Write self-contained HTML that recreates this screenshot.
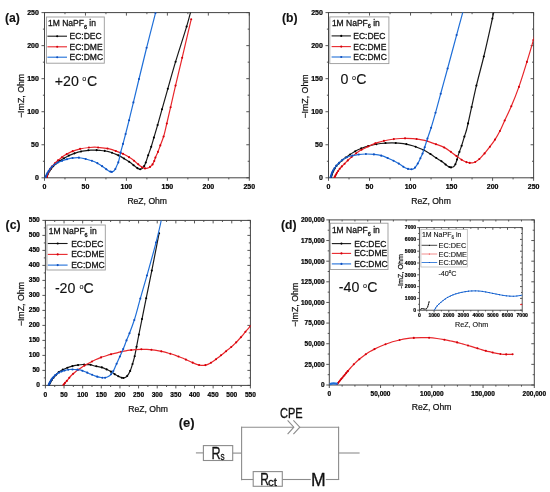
<!DOCTYPE html>
<html><head><meta charset="utf-8"><title>EIS figure</title>
<style>
html,body{margin:0;padding:0;background:#fff;}
svg{display:block;font-family:'Liberation Sans', Arial, sans-serif;}
svg text{stroke:#111;stroke-width:0.12px;stroke-linejoin:round;}
svg text.lg{stroke-width:0.3px;}
svg text.at{stroke-width:0.22px;}
</style></head>
<body>
<svg width="550" height="492" viewBox="0 0 550 492">
<rect width="550" height="492" fill="#fff"/>
<line x1="44.5" y1="177.8" x2="44.5" y2="180.8" stroke="#444" stroke-width="0.9"/>
<line x1="44.5" y1="12.6" x2="44.5" y2="15.6" stroke="#444" stroke-width="0.9"/>
<line x1="64.98" y1="177.8" x2="64.98" y2="179.4" stroke="#444" stroke-width="0.9"/>
<line x1="64.98" y1="12.6" x2="64.98" y2="14.2" stroke="#444" stroke-width="0.9"/>
<line x1="85.46" y1="177.8" x2="85.46" y2="180.8" stroke="#444" stroke-width="0.9"/>
<line x1="85.46" y1="12.6" x2="85.46" y2="15.6" stroke="#444" stroke-width="0.9"/>
<line x1="105.94" y1="177.8" x2="105.94" y2="179.4" stroke="#444" stroke-width="0.9"/>
<line x1="105.94" y1="12.6" x2="105.94" y2="14.2" stroke="#444" stroke-width="0.9"/>
<line x1="126.42" y1="177.8" x2="126.42" y2="180.8" stroke="#444" stroke-width="0.9"/>
<line x1="126.42" y1="12.6" x2="126.42" y2="15.6" stroke="#444" stroke-width="0.9"/>
<line x1="146.9" y1="177.8" x2="146.9" y2="179.4" stroke="#444" stroke-width="0.9"/>
<line x1="146.9" y1="12.6" x2="146.9" y2="14.2" stroke="#444" stroke-width="0.9"/>
<line x1="167.38" y1="177.8" x2="167.38" y2="180.8" stroke="#444" stroke-width="0.9"/>
<line x1="167.38" y1="12.6" x2="167.38" y2="15.6" stroke="#444" stroke-width="0.9"/>
<line x1="187.86" y1="177.8" x2="187.86" y2="179.4" stroke="#444" stroke-width="0.9"/>
<line x1="187.86" y1="12.6" x2="187.86" y2="14.2" stroke="#444" stroke-width="0.9"/>
<line x1="208.34" y1="177.8" x2="208.34" y2="180.8" stroke="#444" stroke-width="0.9"/>
<line x1="208.34" y1="12.6" x2="208.34" y2="15.6" stroke="#444" stroke-width="0.9"/>
<line x1="228.82" y1="177.8" x2="228.82" y2="179.4" stroke="#444" stroke-width="0.9"/>
<line x1="228.82" y1="12.6" x2="228.82" y2="14.2" stroke="#444" stroke-width="0.9"/>
<line x1="249.3" y1="177.8" x2="249.3" y2="180.8" stroke="#444" stroke-width="0.9"/>
<line x1="249.3" y1="12.6" x2="249.3" y2="15.6" stroke="#444" stroke-width="0.9"/>
<line x1="41.5" y1="177.8" x2="44.5" y2="177.8" stroke="#444" stroke-width="0.9"/>
<line x1="246.3" y1="177.8" x2="249.3" y2="177.8" stroke="#444" stroke-width="0.9"/>
<line x1="42.9" y1="161.28" x2="44.5" y2="161.28" stroke="#444" stroke-width="0.9"/>
<line x1="247.7" y1="161.28" x2="249.3" y2="161.28" stroke="#444" stroke-width="0.9"/>
<line x1="41.5" y1="144.76" x2="44.5" y2="144.76" stroke="#444" stroke-width="0.9"/>
<line x1="246.3" y1="144.76" x2="249.3" y2="144.76" stroke="#444" stroke-width="0.9"/>
<line x1="42.9" y1="128.24" x2="44.5" y2="128.24" stroke="#444" stroke-width="0.9"/>
<line x1="247.7" y1="128.24" x2="249.3" y2="128.24" stroke="#444" stroke-width="0.9"/>
<line x1="41.5" y1="111.72" x2="44.5" y2="111.72" stroke="#444" stroke-width="0.9"/>
<line x1="246.3" y1="111.72" x2="249.3" y2="111.72" stroke="#444" stroke-width="0.9"/>
<line x1="42.9" y1="95.2" x2="44.5" y2="95.2" stroke="#444" stroke-width="0.9"/>
<line x1="247.7" y1="95.2" x2="249.3" y2="95.2" stroke="#444" stroke-width="0.9"/>
<line x1="41.5" y1="78.68" x2="44.5" y2="78.68" stroke="#444" stroke-width="0.9"/>
<line x1="246.3" y1="78.68" x2="249.3" y2="78.68" stroke="#444" stroke-width="0.9"/>
<line x1="42.9" y1="62.16" x2="44.5" y2="62.16" stroke="#444" stroke-width="0.9"/>
<line x1="247.7" y1="62.16" x2="249.3" y2="62.16" stroke="#444" stroke-width="0.9"/>
<line x1="41.5" y1="45.64" x2="44.5" y2="45.64" stroke="#444" stroke-width="0.9"/>
<line x1="246.3" y1="45.64" x2="249.3" y2="45.64" stroke="#444" stroke-width="0.9"/>
<line x1="42.9" y1="29.12" x2="44.5" y2="29.12" stroke="#444" stroke-width="0.9"/>
<line x1="247.7" y1="29.12" x2="249.3" y2="29.12" stroke="#444" stroke-width="0.9"/>
<line x1="41.5" y1="12.6" x2="44.5" y2="12.6" stroke="#444" stroke-width="0.9"/>
<line x1="246.3" y1="12.6" x2="249.3" y2="12.6" stroke="#444" stroke-width="0.9"/>
<rect x="44.5" y="12.6" width="204.8" height="165.2" fill="none" stroke="#444" stroke-width="1"/>
<text x="44.5" y="189" font-size="7.0" text-anchor="middle" font-weight="bold" fill="#000" style="stroke:#000;stroke-width:0.22px">0</text>
<text x="85.46" y="189" font-size="7.0" text-anchor="middle" font-weight="bold" fill="#000" style="stroke:#000;stroke-width:0.22px">50</text>
<text x="126.42" y="189" font-size="7.0" text-anchor="middle" font-weight="bold" fill="#000" style="stroke:#000;stroke-width:0.22px">100</text>
<text x="167.38" y="189" font-size="7.0" text-anchor="middle" font-weight="bold" fill="#000" style="stroke:#000;stroke-width:0.22px">150</text>
<text x="208.34" y="189" font-size="7.0" text-anchor="middle" font-weight="bold" fill="#000" style="stroke:#000;stroke-width:0.22px">200</text>
<text x="249.3" y="189" font-size="7.0" text-anchor="middle" font-weight="bold" fill="#000" style="stroke:#000;stroke-width:0.22px">250</text>
<text x="38.9" y="180.32" font-size="7.0" text-anchor="end" font-weight="bold" fill="#000" style="stroke:#000;stroke-width:0.22px">0</text>
<text x="38.9" y="147.28" font-size="7.0" text-anchor="end" font-weight="bold" fill="#000" style="stroke:#000;stroke-width:0.22px">50</text>
<text x="38.9" y="114.24" font-size="7.0" text-anchor="end" font-weight="bold" fill="#000" style="stroke:#000;stroke-width:0.22px">100</text>
<text x="38.9" y="81.2" font-size="7.0" text-anchor="end" font-weight="bold" fill="#000" style="stroke:#000;stroke-width:0.22px">150</text>
<text x="38.9" y="48.16" font-size="7.0" text-anchor="end" font-weight="bold" fill="#000" style="stroke:#000;stroke-width:0.22px">200</text>
<text x="38.9" y="15.12" font-size="7.0" text-anchor="end" font-weight="bold" fill="#000" style="stroke:#000;stroke-width:0.22px">250</text>
<text x="4.9" y="22.4" font-size="12.2" text-anchor="start" font-weight="bold" fill="#111" >(a)</text>
<text x="147.2" y="204.3" font-size="8.6" text-anchor="middle" font-weight="normal" fill="#111" class="at">ReZ, Ohm</text>
<text class="at" x="24.1" y="95.9" font-size="8.8" text-anchor="middle" fill="#111" transform="rotate(-90 24.1 95.9)">&#8722;ImZ, Ohm</text>
<clipPath id="ca"><rect x="44.5" y="12.6" width="204.8" height="165.20000000000002"/></clipPath>
<path d="M46.4,177.6C47.03,176 47.51,174.28 48.3,172.8C49.06,171.39 49.93,170.24 51,168.9C52.26,167.32 53.78,165.5 55.5,164C57.35,162.38 59.72,160.93 61.8,159.6C63.75,158.35 65.6,157.2 67.6,156.2C69.6,155.2 71.53,154.39 73.8,153.6C76.43,152.69 79.62,151.79 82.5,151.2C85.25,150.64 88.4,150.25 90.7,150.1C92.36,149.99 93.51,150.06 95,150.1C96.6,150.15 98.12,150.21 100,150.4C102.46,150.65 105.84,150.94 108.5,151.6C110.98,152.21 113.34,153.21 115.5,154.1C117.44,154.89 119.15,155.65 120.9,156.6C122.66,157.55 124.38,158.76 126,159.8C127.5,160.76 128.92,161.6 130.3,162.6C131.68,163.6 133.03,164.82 134.3,165.8C135.42,166.67 136.44,167.6 137.5,168.2C138.4,168.71 139.34,169.31 140.2,169.3C141,169.29 141.84,168.83 142.5,168.3C143.23,167.71 143.76,166.74 144.3,165.8C144.91,164.74 145.36,163.6 145.9,162.2C146.62,160.33 147.29,157.88 148.1,155.5C149.03,152.76 150.24,149.67 151.2,146.7C152.17,143.7 152.93,140.87 153.9,137.6C155.04,133.76 156.33,129.52 157.6,125.1C159.02,120.15 160.43,114.91 162,109.3C163.79,102.91 165.71,96.11 167.8,88.8C170.2,80.39 172.71,71.3 175.6,61.7C178.89,50.74 183.91,35.67 186.6,26.6C188.29,20.9 189.8,14.96 190.5,12.6C190.74,11.8 190.83,11.53 191,11" fill="none" stroke="#1a1a1a" stroke-width="1.2" stroke-linejoin="round" clip-path="url(#ca)"/>
<g fill="#000" clip-path="url(#ca)"><circle cx="46.4" cy="177.6" r="1.05"/><circle cx="46.75" cy="176.66" r="1.05"/><circle cx="47.16" cy="175.52" r="1.05"/><circle cx="47.68" cy="174.15" r="1.05"/><circle cx="48.44" cy="172.55" r="1.05"/><circle cx="49.59" cy="170.73" r="1.05"/><circle cx="51.18" cy="168.67" r="1.05"/><circle cx="53.22" cy="166.26" r="1.05"/><circle cx="55.97" cy="163.61" r="1.05"/><circle cx="59.68" cy="160.96" r="1.05"/><circle cx="63.93" cy="158.26" r="1.05"/><circle cx="68.82" cy="155.61" r="1.05"/><circle cx="74.53" cy="153.35" r="1.05"/><circle cx="81.05" cy="151.52" r="1.05"/><circle cx="88.43" cy="150.3" r="1.05"/><circle cx="96.68" cy="150.16" r="1.05"/><circle cx="104.72" cy="150.92" r="1.05"/><circle cx="111.99" cy="152.7" r="1.05"/><circle cx="118.44" cy="155.37" r="1.05"/><circle cx="124.08" cy="158.55" r="1.05"/><circle cx="129.15" cy="161.8" r="1.05"/><circle cx="133.58" cy="165.22" r="1.05"/><circle cx="137.42" cy="168.16" r="1.05"/><circle cx="140.2" cy="169.3" r="1.05"/><circle cx="144.19" cy="166" r="1.05"/><circle cx="145.78" cy="162.5" r="1.05"/><circle cx="148.2" cy="155.2" r="1.05"/><circle cx="151.2" cy="146.7" r="1.05"/><circle cx="153.9" cy="137.6" r="1.05"/><circle cx="157.6" cy="125.1" r="1.05"/><circle cx="162" cy="109.3" r="1.05"/><circle cx="167.8" cy="88.8" r="1.05"/><circle cx="175.6" cy="61.7" r="1.05"/><circle cx="186.6" cy="26.6" r="1.05"/></g>
<path d="M46.6,177.6C47.13,175.93 47.54,174.14 48.2,172.6C48.82,171.16 49.54,169.88 50.4,168.6C51.29,167.27 52.46,165.97 53.5,164.8C54.46,163.72 55.32,162.8 56.4,161.8C57.62,160.67 59.07,159.5 60.5,158.4C61.97,157.27 63.4,156.16 65.1,155.1C67.05,153.89 69.22,152.61 71.6,151.6C74.26,150.47 77.4,149.48 80.4,148.8C83.4,148.11 86.93,147.76 89.6,147.5C91.63,147.3 93.24,147.16 95,147.2C96.7,147.24 98.08,147.48 100,147.7C102.62,148 106.34,148.22 109.3,148.9C112.13,149.55 114.85,150.66 117.4,151.6C119.73,152.46 121.89,153.26 124,154.3C126.09,155.33 128.29,156.69 130,157.8C131.35,158.67 132.31,159.39 133.5,160.3C134.81,161.3 136.23,162.56 137.5,163.6C138.65,164.55 139.8,165.55 140.8,166.3C141.59,166.89 142.26,167.45 143,167.8C143.66,168.11 144.29,168.32 145,168.4C145.78,168.48 146.69,168.43 147.5,168.2C148.36,167.95 149.23,167.44 150,166.9C150.8,166.35 151.56,165.71 152.2,164.9C152.92,163.99 153.48,162.78 154,161.6C154.55,160.35 154.83,159.04 155.4,157.6C156.09,155.86 157.1,153.87 157.9,151.9C158.74,149.82 159.44,147.74 160.3,145.4C161.31,142.67 162.59,139.78 163.6,136.5C164.8,132.61 165.7,128.08 166.8,123.5C168.03,118.38 169.27,112.98 170.6,107.2C172.11,100.64 173.64,93.74 175.4,86.2C177.45,77.4 179.78,67.83 182.2,57.6C185,45.77 188.2,32.07 191.2,19.3" fill="none" stroke="#e8262b" stroke-width="1.2" stroke-linejoin="round" clip-path="url(#ca)"/>
<g fill="#d4000a" clip-path="url(#ca)"><circle cx="46.6" cy="177.6" r="1.05"/><circle cx="46.89" cy="176.64" r="1.05"/><circle cx="47.22" cy="175.49" r="1.05"/><circle cx="47.64" cy="174.1" r="1.05"/><circle cx="48.26" cy="172.47" r="1.05"/><circle cx="49.18" cy="170.59" r="1.05"/><circle cx="50.51" cy="168.44" r="1.05"/><circle cx="52.4" cy="166.05" r="1.05"/><circle cx="54.84" cy="163.33" r="1.05"/><circle cx="58" cy="160.4" r="1.05"/><circle cx="61.92" cy="157.31" r="1.05"/><circle cx="66.72" cy="154.11" r="1.05"/><circle cx="72.71" cy="151.15" r="1.05"/><circle cx="80.09" cy="148.87" r="1.05"/><circle cx="88.94" cy="147.57" r="1.05"/><circle cx="98.13" cy="147.47" r="1.05"/><circle cx="107.52" cy="148.56" r="1.05"/><circle cx="115.82" cy="151.01" r="1.05"/><circle cx="123.01" cy="153.83" r="1.05"/><circle cx="129.02" cy="157.17" r="1.05"/><circle cx="134.02" cy="160.71" r="1.05"/><circle cx="138.22" cy="164.2" r="1.05"/><circle cx="142.03" cy="167.22" r="1.05"/><circle cx="145" cy="168.4" r="1.05"/><circle cx="150" cy="166.9" r="1.05"/><circle cx="152.56" cy="164.4" r="1.05"/><circle cx="154.25" cy="161" r="1.05"/><circle cx="155.4" cy="157.6" r="1.05"/><circle cx="157.9" cy="151.9" r="1.05"/><circle cx="160.3" cy="145.4" r="1.05"/><circle cx="163.6" cy="136.5" r="1.05"/><circle cx="166.8" cy="123.5" r="1.05"/><circle cx="170.6" cy="107.2" r="1.05"/><circle cx="175.54" cy="85.6" r="1.05"/><circle cx="182.15" cy="57.8" r="1.05"/><circle cx="191.2" cy="19.3" r="1.05"/></g>
<path d="M45.4,177.6C45.87,176.47 46.25,175.31 46.8,174.2C47.37,173.05 48.01,171.97 48.8,170.8C49.71,169.45 50.75,167.84 52,166.6C53.28,165.33 54.93,164.18 56.4,163.3C57.7,162.53 58.84,162.09 60.3,161.5C62.09,160.78 64.47,159.97 66.4,159.4C68.11,158.9 69.51,158.49 71.3,158.2C73.39,157.86 75.85,157.49 78.2,157.6C80.68,157.72 83.37,158.41 85.8,159C88.09,159.56 90.48,160.31 92.4,161C93.94,161.55 95.21,162.07 96.5,162.7C97.73,163.3 98.82,163.94 100,164.7C101.29,165.53 102.61,166.58 103.9,167.5C105.17,168.41 106.57,169.49 107.7,170.2C108.55,170.74 109.26,171.22 110,171.5C110.62,171.74 111.21,171.94 111.8,171.9C112.38,171.86 112.98,171.66 113.5,171.3C114.1,170.88 114.62,170.15 115.1,169.4C115.67,168.5 116.09,167.31 116.6,166.2C117.15,164.99 117.76,163.99 118.3,162.4C119.14,159.92 119.79,155.76 120.6,152.6C121.36,149.61 122.19,146.9 123,143.9C123.86,140.71 124.68,137.58 125.6,134C126.69,129.78 127.89,125.1 129.1,120.2C130.47,114.65 131.88,108.74 133.4,102.4C135.15,95.13 136.98,87.36 139,79C141.33,69.34 143.93,58.51 146.6,47.8C149.44,36.41 154.56,16.72 155.6,12.6C155.82,11.72 155.87,11.53 156,11" fill="none" stroke="#1f6fd8" stroke-width="1.2" stroke-linejoin="round" clip-path="url(#ca)"/>
<g fill="#1050c0" clip-path="url(#ca)"><circle cx="45.4" cy="177.6" r="1.05"/><circle cx="45.77" cy="176.67" r="1.05"/><circle cx="46.2" cy="175.56" r="1.05"/><circle cx="46.77" cy="174.26" r="1.05"/><circle cx="47.56" cy="172.78" r="1.05"/><circle cx="48.62" cy="171.07" r="1.05"/><circle cx="49.96" cy="169.1" r="1.05"/><circle cx="51.72" cy="166.88" r="1.05"/><circle cx="54.29" cy="164.69" r="1.05"/><circle cx="57.71" cy="162.6" r="1.05"/><circle cx="62.03" cy="160.84" r="1.05"/><circle cx="66.95" cy="159.24" r="1.05"/><circle cx="72.56" cy="158" r="1.05"/><circle cx="78.91" cy="157.65" r="1.05"/><circle cx="85.72" cy="158.98" r="1.05"/><circle cx="91.9" cy="160.82" r="1.05"/><circle cx="97.41" cy="163.16" r="1.05"/><circle cx="102.08" cy="166.16" r="1.05"/><circle cx="106.25" cy="169.21" r="1.05"/><circle cx="110.26" cy="171.6" r="1.05"/><circle cx="111.8" cy="171.9" r="1.05"/><circle cx="115.34" cy="169" r="1.05"/><circle cx="118.3" cy="162.4" r="1.05"/><circle cx="120.6" cy="152.6" r="1.05"/><circle cx="123" cy="143.9" r="1.05"/><circle cx="125.6" cy="134" r="1.05"/><circle cx="129.1" cy="120.2" r="1.05"/><circle cx="133.4" cy="102.4" r="1.05"/><circle cx="139" cy="79" r="1.05"/><circle cx="146.6" cy="47.8" r="1.05"/><circle cx="155.5" cy="13" r="1.05"/></g>
<rect x="46.4" y="17" width="57.9" height="46.2" fill="#fff" stroke="#9a9a9a" stroke-width="0.9"/>
<text class="lg" x="48" y="26.2" font-size="8.5" fill="#1a1a1a">1M NaPF<tspan font-size="5.5" dy="2.55">6</tspan><tspan dy="-2.55"> in</tspan></text>
<line x1="47.4" y1="36.2" x2="67" y2="36.2" stroke="#1a1a1a" stroke-width="1.1"/>
<circle cx="57.2" cy="36.2" r="1.05" fill="#000"/>
<text x="69.5" y="39.26" font-size="8.5" text-anchor="start" font-weight="normal" fill="#1a1a1a" class="lg">EC:DEC</text>
<line x1="47.4" y1="46.8" x2="67" y2="46.8" stroke="#e8262b" stroke-width="1.1"/>
<circle cx="57.2" cy="46.8" r="1.05" fill="#d4000a"/>
<text x="69.5" y="49.86" font-size="8.5" text-anchor="start" font-weight="normal" fill="#1a1a1a" class="lg">EC:DME</text>
<line x1="47.4" y1="57.2" x2="67" y2="57.2" stroke="#1f6fd8" stroke-width="1.1"/>
<circle cx="57.2" cy="57.2" r="1.05" fill="#1050c0"/>
<text x="69.5" y="60.26" font-size="8.5" text-anchor="start" font-weight="normal" fill="#1a1a1a" class="lg">EC:DMC</text>
<text y="85.7" font-size="14.2" fill="#111"><tspan x="54.8">+20</tspan><tspan x="82.2" y="81.1" font-size="7.2">o</tspan><tspan x="87" y="85.7">C</tspan></text>
<line x1="328.5" y1="177.8" x2="328.5" y2="180.8" stroke="#444" stroke-width="0.9"/>
<line x1="328.5" y1="12.6" x2="328.5" y2="15.6" stroke="#444" stroke-width="0.9"/>
<line x1="349.01" y1="177.8" x2="349.01" y2="179.4" stroke="#444" stroke-width="0.9"/>
<line x1="349.01" y1="12.6" x2="349.01" y2="14.2" stroke="#444" stroke-width="0.9"/>
<line x1="369.52" y1="177.8" x2="369.52" y2="180.8" stroke="#444" stroke-width="0.9"/>
<line x1="369.52" y1="12.6" x2="369.52" y2="15.6" stroke="#444" stroke-width="0.9"/>
<line x1="390.03" y1="177.8" x2="390.03" y2="179.4" stroke="#444" stroke-width="0.9"/>
<line x1="390.03" y1="12.6" x2="390.03" y2="14.2" stroke="#444" stroke-width="0.9"/>
<line x1="410.54" y1="177.8" x2="410.54" y2="180.8" stroke="#444" stroke-width="0.9"/>
<line x1="410.54" y1="12.6" x2="410.54" y2="15.6" stroke="#444" stroke-width="0.9"/>
<line x1="431.05" y1="177.8" x2="431.05" y2="179.4" stroke="#444" stroke-width="0.9"/>
<line x1="431.05" y1="12.6" x2="431.05" y2="14.2" stroke="#444" stroke-width="0.9"/>
<line x1="451.56" y1="177.8" x2="451.56" y2="180.8" stroke="#444" stroke-width="0.9"/>
<line x1="451.56" y1="12.6" x2="451.56" y2="15.6" stroke="#444" stroke-width="0.9"/>
<line x1="472.07" y1="177.8" x2="472.07" y2="179.4" stroke="#444" stroke-width="0.9"/>
<line x1="472.07" y1="12.6" x2="472.07" y2="14.2" stroke="#444" stroke-width="0.9"/>
<line x1="492.58" y1="177.8" x2="492.58" y2="180.8" stroke="#444" stroke-width="0.9"/>
<line x1="492.58" y1="12.6" x2="492.58" y2="15.6" stroke="#444" stroke-width="0.9"/>
<line x1="513.09" y1="177.8" x2="513.09" y2="179.4" stroke="#444" stroke-width="0.9"/>
<line x1="513.09" y1="12.6" x2="513.09" y2="14.2" stroke="#444" stroke-width="0.9"/>
<line x1="533.6" y1="177.8" x2="533.6" y2="180.8" stroke="#444" stroke-width="0.9"/>
<line x1="533.6" y1="12.6" x2="533.6" y2="15.6" stroke="#444" stroke-width="0.9"/>
<line x1="325.5" y1="177.8" x2="328.5" y2="177.8" stroke="#444" stroke-width="0.9"/>
<line x1="530.6" y1="177.8" x2="533.6" y2="177.8" stroke="#444" stroke-width="0.9"/>
<line x1="326.9" y1="161.28" x2="328.5" y2="161.28" stroke="#444" stroke-width="0.9"/>
<line x1="532" y1="161.28" x2="533.6" y2="161.28" stroke="#444" stroke-width="0.9"/>
<line x1="325.5" y1="144.76" x2="328.5" y2="144.76" stroke="#444" stroke-width="0.9"/>
<line x1="530.6" y1="144.76" x2="533.6" y2="144.76" stroke="#444" stroke-width="0.9"/>
<line x1="326.9" y1="128.24" x2="328.5" y2="128.24" stroke="#444" stroke-width="0.9"/>
<line x1="532" y1="128.24" x2="533.6" y2="128.24" stroke="#444" stroke-width="0.9"/>
<line x1="325.5" y1="111.72" x2="328.5" y2="111.72" stroke="#444" stroke-width="0.9"/>
<line x1="530.6" y1="111.72" x2="533.6" y2="111.72" stroke="#444" stroke-width="0.9"/>
<line x1="326.9" y1="95.2" x2="328.5" y2="95.2" stroke="#444" stroke-width="0.9"/>
<line x1="532" y1="95.2" x2="533.6" y2="95.2" stroke="#444" stroke-width="0.9"/>
<line x1="325.5" y1="78.68" x2="328.5" y2="78.68" stroke="#444" stroke-width="0.9"/>
<line x1="530.6" y1="78.68" x2="533.6" y2="78.68" stroke="#444" stroke-width="0.9"/>
<line x1="326.9" y1="62.16" x2="328.5" y2="62.16" stroke="#444" stroke-width="0.9"/>
<line x1="532" y1="62.16" x2="533.6" y2="62.16" stroke="#444" stroke-width="0.9"/>
<line x1="325.5" y1="45.64" x2="328.5" y2="45.64" stroke="#444" stroke-width="0.9"/>
<line x1="530.6" y1="45.64" x2="533.6" y2="45.64" stroke="#444" stroke-width="0.9"/>
<line x1="326.9" y1="29.12" x2="328.5" y2="29.12" stroke="#444" stroke-width="0.9"/>
<line x1="532" y1="29.12" x2="533.6" y2="29.12" stroke="#444" stroke-width="0.9"/>
<line x1="325.5" y1="12.6" x2="328.5" y2="12.6" stroke="#444" stroke-width="0.9"/>
<line x1="530.6" y1="12.6" x2="533.6" y2="12.6" stroke="#444" stroke-width="0.9"/>
<rect x="328.5" y="12.6" width="205.1" height="165.2" fill="none" stroke="#444" stroke-width="1"/>
<text x="328.5" y="189" font-size="7.0" text-anchor="middle" font-weight="bold" fill="#000" style="stroke:#000;stroke-width:0.22px">0</text>
<text x="369.52" y="189" font-size="7.0" text-anchor="middle" font-weight="bold" fill="#000" style="stroke:#000;stroke-width:0.22px">50</text>
<text x="410.54" y="189" font-size="7.0" text-anchor="middle" font-weight="bold" fill="#000" style="stroke:#000;stroke-width:0.22px">100</text>
<text x="451.56" y="189" font-size="7.0" text-anchor="middle" font-weight="bold" fill="#000" style="stroke:#000;stroke-width:0.22px">150</text>
<text x="492.58" y="189" font-size="7.0" text-anchor="middle" font-weight="bold" fill="#000" style="stroke:#000;stroke-width:0.22px">200</text>
<text x="533.6" y="189" font-size="7.0" text-anchor="middle" font-weight="bold" fill="#000" style="stroke:#000;stroke-width:0.22px">250</text>
<text x="322.9" y="180.32" font-size="7.0" text-anchor="end" font-weight="bold" fill="#000" style="stroke:#000;stroke-width:0.22px">0</text>
<text x="322.9" y="147.28" font-size="7.0" text-anchor="end" font-weight="bold" fill="#000" style="stroke:#000;stroke-width:0.22px">50</text>
<text x="322.9" y="114.24" font-size="7.0" text-anchor="end" font-weight="bold" fill="#000" style="stroke:#000;stroke-width:0.22px">100</text>
<text x="322.9" y="81.2" font-size="7.0" text-anchor="end" font-weight="bold" fill="#000" style="stroke:#000;stroke-width:0.22px">150</text>
<text x="322.9" y="48.16" font-size="7.0" text-anchor="end" font-weight="bold" fill="#000" style="stroke:#000;stroke-width:0.22px">200</text>
<text x="322.9" y="15.12" font-size="7.0" text-anchor="end" font-weight="bold" fill="#000" style="stroke:#000;stroke-width:0.22px">250</text>
<text x="281.9" y="22.4" font-size="12.2" text-anchor="start" font-weight="bold" fill="#111" >(b)</text>
<text x="431" y="204.3" font-size="8.6" text-anchor="middle" font-weight="normal" fill="#111" class="at">ReZ, Ohm</text>
<text class="at" x="307.7" y="96.5" font-size="8.8" text-anchor="middle" fill="#111" transform="rotate(-90 307.7 96.5)">&#8722;ImZ, Ohm</text>
<clipPath id="cb"><rect x="328.5" y="12.6" width="205.10000000000002" height="165.20000000000002"/></clipPath>
<path d="M330.9,177.6C331.27,176.4 331.58,175.16 332,174C332.41,172.86 332.87,171.75 333.4,170.7C333.91,169.68 334.48,168.72 335.1,167.8C335.71,166.89 336.37,166.05 337.1,165.2C337.86,164.31 338.68,163.49 339.6,162.6C340.65,161.59 341.81,160.54 343.1,159.5C344.57,158.31 346.3,157.09 348,155.9C349.79,154.65 351.57,153.38 353.6,152.2C355.86,150.9 358.31,149.59 361,148.5C363.99,147.29 367.51,146.24 370.8,145.4C374.04,144.58 377.19,143.92 380.6,143.5C384.27,143.05 388.28,142.88 392.1,142.9C395.88,142.92 399.76,143.06 403.4,143.6C406.88,144.12 410.32,145 413.5,146C416.46,146.93 419.27,148.1 421.9,149.3C424.34,150.41 426.67,151.61 428.8,152.9C430.78,154.09 432.4,155.45 434.3,156.7C436.29,158.01 438.8,159.46 440.5,160.6C441.72,161.42 442.6,162.03 443.6,162.8C444.6,163.56 445.55,164.51 446.5,165.2C447.35,165.82 448.19,166.43 449,166.8C449.68,167.11 450.33,167.37 451,167.4C451.66,167.43 452.4,167.29 453,167C453.61,166.7 454.15,166.18 454.6,165.6C455.11,164.95 455.43,164.07 455.8,163.2C456.21,162.22 456.55,161.14 456.9,160C457.29,158.72 457.56,157.32 458,155.9C458.48,154.33 459.1,152.68 459.7,151C460.33,149.22 461.02,147.55 461.7,145.5C462.54,142.96 463.46,139.61 464.3,136.9C465.05,134.47 465.69,132.99 466.5,130C467.96,124.61 469.92,114.61 471.6,107.1C473.22,99.82 474.56,93.29 476.4,85.6C478.54,76.62 481.31,66.86 483.8,56.5C486.64,44.69 490.8,25.66 492.4,18.5C493.03,15.68 493.38,13.95 493.7,12.6C493.87,11.9 493.97,11.53 494.1,11" fill="none" stroke="#1a1a1a" stroke-width="1.2" stroke-linejoin="round" clip-path="url(#cb)"/>
<g fill="#000" clip-path="url(#cb)"><circle cx="330.9" cy="177.6" r="1.05"/><circle cx="331.18" cy="176.64" r="1.05"/><circle cx="331.52" cy="175.49" r="1.05"/><circle cx="331.96" cy="174.12" r="1.05"/><circle cx="332.58" cy="172.51" r="1.05"/><circle cx="333.43" cy="170.64" r="1.05"/><circle cx="334.65" cy="168.48" r="1.05"/><circle cx="336.38" cy="166.07" r="1.05"/><circle cx="338.76" cy="163.43" r="1.05"/><circle cx="341.88" cy="160.52" r="1.05"/><circle cx="345.69" cy="157.53" r="1.05"/><circle cx="350.11" cy="154.43" r="1.05"/><circle cx="355.22" cy="151.28" r="1.05"/><circle cx="361.25" cy="148.4" r="1.05"/><circle cx="368.31" cy="146.07" r="1.05"/><circle cx="376.36" cy="144.16" r="1.05"/><circle cx="385.5" cy="143.07" r="1.05"/><circle cx="395.75" cy="142.96" r="1.05"/><circle cx="406.34" cy="144.12" r="1.05"/><circle cx="415.66" cy="146.73" r="1.05"/><circle cx="423.71" cy="150.15" r="1.05"/><circle cx="430.51" cy="154.02" r="1.05"/><circle cx="436.28" cy="157.96" r="1.05"/><circle cx="441.48" cy="161.26" r="1.05"/><circle cx="445.62" cy="164.5" r="1.05"/><circle cx="449.37" cy="166.97" r="1.05"/><circle cx="451" cy="167.4" r="1.05"/><circle cx="455.38" cy="164.2" r="1.05"/><circle cx="457.05" cy="159.5" r="1.05"/><circle cx="459.38" cy="151.9" r="1.05"/><circle cx="461.63" cy="145.7" r="1.05"/><circle cx="464.39" cy="136.6" r="1.05"/><circle cx="468.08" cy="123.4" r="1.05"/><circle cx="471.6" cy="107.1" r="1.05"/><circle cx="476.4" cy="85.6" r="1.05"/><circle cx="483.8" cy="56.5" r="1.05"/><circle cx="492.4" cy="18.5" r="1.05"/></g>
<path d="M334.4,177.6C334.97,176.5 335.48,175.4 336.1,174.3C336.74,173.16 337.43,172.01 338.2,170.9C338.99,169.75 339.86,168.58 340.8,167.5C341.75,166.41 342.71,165.59 343.9,164.4C345.51,162.79 347.73,160.41 349.6,158.7C351.26,157.18 352.79,155.93 354.5,154.6C356.28,153.22 358.18,151.78 360.1,150.6C361.95,149.46 363.93,148.52 365.8,147.6C367.56,146.73 369.17,145.99 371,145.2C373.01,144.33 374.97,143.39 377.4,142.6C380.46,141.61 384.31,140.67 388,140C391.93,139.28 396.14,138.74 400.3,138.5C404.54,138.26 409.05,138.26 413.2,138.6C417.13,138.92 420.92,139.5 424.6,140.4C428.18,141.28 431.66,142.7 435,143.9C438.15,145.03 441.34,145.99 444.1,147.4C446.63,148.7 448.86,150.39 451,151.9C452.96,153.29 454.62,154.73 456.5,156.1C458.42,157.5 460.64,159.16 462.4,160.2C463.72,160.98 464.77,161.55 466,162C467.2,162.44 468.54,162.78 469.7,162.9C470.69,163 471.58,162.95 472.5,162.8C473.42,162.65 474.23,162.48 475.2,162C476.59,161.31 478.31,159.93 479.8,158.6C481.46,157.12 483,155.28 484.6,153.4C486.36,151.34 488.18,148.99 489.9,146.7C491.64,144.39 493.38,142.13 495,139.6C496.72,136.91 498.34,134.05 499.9,131C501.59,127.71 502.97,124.26 504.7,120.5C506.72,116.12 509.1,111.44 511.3,106.3C513.84,100.37 516.44,93.82 518.9,86.9C521.66,79.14 524.49,69.68 526.9,61.9C529,55.12 531.22,47.56 532.6,42.8C533.42,39.97 533.87,38.27 534.5,36" fill="none" stroke="#e8262b" stroke-width="1.2" stroke-linejoin="round" clip-path="url(#cb)"/>
<g fill="#d4000a" clip-path="url(#cb)"><circle cx="334.4" cy="177.6" r="1.05"/><circle cx="334.85" cy="176.71" r="1.05"/><circle cx="335.39" cy="175.62" r="1.05"/><circle cx="336.09" cy="174.32" r="1.05"/><circle cx="336.99" cy="172.78" r="1.05"/><circle cx="338.16" cy="170.95" r="1.05"/><circle cx="339.71" cy="168.82" r="1.05"/><circle cx="341.82" cy="166.42" r="1.05"/><circle cx="344.59" cy="163.71" r="1.05"/><circle cx="347.82" cy="160.41" r="1.05"/><circle cx="351.62" cy="156.92" r="1.05"/><circle cx="356.14" cy="153.35" r="1.05"/><circle cx="361.5" cy="149.79" r="1.05"/><circle cx="367.94" cy="146.57" r="1.05"/><circle cx="375.32" cy="143.35" r="1.05"/><circle cx="383.94" cy="140.83" r="1.05"/><circle cx="393.84" cy="139.1" r="1.05"/><circle cx="405.05" cy="138.34" r="1.05"/><circle cx="416.6" cy="138.95" r="1.05"/><circle cx="426.93" cy="141.05" r="1.05"/><circle cx="436" cy="144.26" r="1.05"/><circle cx="444.17" cy="147.43" r="1.05"/><circle cx="450.85" cy="151.8" r="1.05"/><circle cx="456.47" cy="156.08" r="1.05"/><circle cx="461.57" cy="159.69" r="1.05"/><circle cx="466.49" cy="162.17" r="1.05"/><circle cx="469.7" cy="162.9" r="1.05"/><circle cx="475.2" cy="162" r="1.05"/><circle cx="479.35" cy="159" r="1.05"/><circle cx="484.6" cy="153.4" r="1.05"/><circle cx="489.9" cy="146.7" r="1.05"/><circle cx="495" cy="139.6" r="1.05"/><circle cx="499.9" cy="131" r="1.05"/><circle cx="504.7" cy="120.5" r="1.05"/><circle cx="511.3" cy="106.3" r="1.05"/><circle cx="518.9" cy="86.9" r="1.05"/><circle cx="526.9" cy="61.9" r="1.05"/><circle cx="533.39" cy="40" r="1.05"/></g>
<path d="M330.5,177.6C330.87,176.4 331.18,175.17 331.6,174C332.01,172.84 332.47,171.64 333,170.6C333.48,169.65 334.03,168.84 334.6,168C335.16,167.17 335.76,166.36 336.4,165.6C337.03,164.86 337.61,164.28 338.4,163.5C339.47,162.45 340.71,161 342.3,159.9C344.26,158.55 346.96,157.16 349.5,156.3C352.09,155.42 354.96,155.08 357.7,154.7C360.42,154.32 363.16,154.05 365.9,154C368.63,153.95 371.45,154.1 374.1,154.4C376.64,154.68 379.14,155.05 381.5,155.7C383.77,156.33 385.81,157.26 388,158.2C390.31,159.19 392.95,160.44 395,161.5C396.65,162.36 397.96,163.11 399.4,164C400.86,164.9 402.22,166.07 403.7,166.9C405.13,167.7 406.71,168.51 408.1,168.9C409.25,169.22 410.37,169.4 411.4,169.3C412.36,169.2 413.32,168.91 414.1,168.4C414.89,167.88 415.48,167.01 416.1,166.2C416.76,165.33 417.34,164.28 417.9,163.3C418.44,162.34 418.92,161.39 419.4,160.4C419.89,159.39 420.29,158.4 420.8,157.3C421.38,156.03 422.13,154.63 422.7,153.2C423.3,151.7 423.78,150.08 424.3,148.5C424.82,146.91 425.29,145.32 425.8,143.7C426.32,142.05 426.75,140.69 427.4,138.7C428.37,135.74 429.85,131.66 431.1,127.7C432.55,123.12 433.94,118.3 435.5,112.8C437.42,106.01 439.65,97.49 441.7,90C443.69,82.73 445.44,76.46 447.6,68.5C450.29,58.59 453.89,45.14 456.6,35.1C458.83,26.86 461.78,15.75 462.7,12.6C462.95,11.75 463.03,11.53 463.2,11" fill="none" stroke="#1f6fd8" stroke-width="1.2" stroke-linejoin="round" clip-path="url(#cb)"/>
<g fill="#1050c0" clip-path="url(#cb)"><circle cx="330.5" cy="177.6" r="1.05"/><circle cx="330.78" cy="176.64" r="1.05"/><circle cx="331.12" cy="175.48" r="1.05"/><circle cx="331.57" cy="174.07" r="1.05"/><circle cx="332.2" cy="172.4" r="1.05"/><circle cx="333.09" cy="170.43" r="1.05"/><circle cx="334.47" cy="168.19" r="1.05"/><circle cx="336.37" cy="165.63" r="1.05"/><circle cx="339.05" cy="162.84" r="1.05"/><circle cx="342.49" cy="159.77" r="1.05"/><circle cx="346.99" cy="157.29" r="1.05"/><circle cx="352.44" cy="155.52" r="1.05"/><circle cx="358.79" cy="154.55" r="1.05"/><circle cx="365.93" cy="154" r="1.05"/><circle cx="373.91" cy="154.38" r="1.05"/><circle cx="381.23" cy="155.63" r="1.05"/><circle cx="387.69" cy="158.07" r="1.05"/><circle cx="393.53" cy="160.75" r="1.05"/><circle cx="398.77" cy="163.61" r="1.05"/><circle cx="403.37" cy="166.71" r="1.05"/><circle cx="408.02" cy="168.88" r="1.05"/><circle cx="411.4" cy="169.3" r="1.05"/><circle cx="415" cy="167.6" r="1.05"/><circle cx="417.79" cy="163.5" r="1.05"/><circle cx="420.4" cy="158.2" r="1.05"/><circle cx="422.54" cy="153.6" r="1.05"/><circle cx="424.71" cy="147.2" r="1.05"/><circle cx="427.47" cy="138.5" r="1.05"/><circle cx="431.1" cy="127.7" r="1.05"/><circle cx="435.5" cy="112.8" r="1.05"/><circle cx="440.7" cy="93.7" r="1.05"/><circle cx="447.6" cy="68.5" r="1.05"/><circle cx="456.6" cy="35.1" r="1.05"/></g>
<rect x="329.8" y="16.9" width="59.1" height="46.7" fill="#fff" stroke="#9a9a9a" stroke-width="0.9"/>
<text class="lg" x="331.9" y="25.8" font-size="8.5" fill="#1a1a1a">1M NaPF<tspan font-size="5.5" dy="2.55">6</tspan><tspan dy="-2.55"> in</tspan></text>
<line x1="331.6" y1="35.9" x2="350.9" y2="35.9" stroke="#1a1a1a" stroke-width="1.1"/>
<circle cx="341.25" cy="35.9" r="1.05" fill="#000"/>
<text x="353.3" y="38.96" font-size="8.5" text-anchor="start" font-weight="normal" fill="#1a1a1a" class="lg">EC:DEC</text>
<line x1="331.6" y1="46.6" x2="350.9" y2="46.6" stroke="#e8262b" stroke-width="1.1"/>
<circle cx="341.25" cy="46.6" r="1.05" fill="#d4000a"/>
<text x="353.3" y="49.66" font-size="8.5" text-anchor="start" font-weight="normal" fill="#1a1a1a" class="lg">EC:DME</text>
<line x1="331.6" y1="57" x2="350.9" y2="57" stroke="#1f6fd8" stroke-width="1.1"/>
<circle cx="341.25" cy="57" r="1.05" fill="#1050c0"/>
<text x="353.3" y="60.06" font-size="8.5" text-anchor="start" font-weight="normal" fill="#1a1a1a" class="lg">EC:DMC</text>
<text y="84.4" font-size="14.2" fill="#111"><tspan x="340.4">0</tspan><tspan x="352" y="79.9" font-size="7.2">o</tspan><tspan x="356.3" y="84.4">C</tspan></text>
<line x1="45.4" y1="385.4" x2="45.4" y2="388.4" stroke="#444" stroke-width="0.9"/>
<line x1="45.4" y1="220.4" x2="45.4" y2="223.4" stroke="#444" stroke-width="0.9"/>
<line x1="54.72" y1="385.4" x2="54.72" y2="387" stroke="#444" stroke-width="0.9"/>
<line x1="54.72" y1="220.4" x2="54.72" y2="222" stroke="#444" stroke-width="0.9"/>
<line x1="64.04" y1="385.4" x2="64.04" y2="388.4" stroke="#444" stroke-width="0.9"/>
<line x1="64.04" y1="220.4" x2="64.04" y2="223.4" stroke="#444" stroke-width="0.9"/>
<line x1="73.35" y1="385.4" x2="73.35" y2="387" stroke="#444" stroke-width="0.9"/>
<line x1="73.35" y1="220.4" x2="73.35" y2="222" stroke="#444" stroke-width="0.9"/>
<line x1="82.67" y1="385.4" x2="82.67" y2="388.4" stroke="#444" stroke-width="0.9"/>
<line x1="82.67" y1="220.4" x2="82.67" y2="223.4" stroke="#444" stroke-width="0.9"/>
<line x1="91.99" y1="385.4" x2="91.99" y2="387" stroke="#444" stroke-width="0.9"/>
<line x1="91.99" y1="220.4" x2="91.99" y2="222" stroke="#444" stroke-width="0.9"/>
<line x1="101.31" y1="385.4" x2="101.31" y2="388.4" stroke="#444" stroke-width="0.9"/>
<line x1="101.31" y1="220.4" x2="101.31" y2="223.4" stroke="#444" stroke-width="0.9"/>
<line x1="110.63" y1="385.4" x2="110.63" y2="387" stroke="#444" stroke-width="0.9"/>
<line x1="110.63" y1="220.4" x2="110.63" y2="222" stroke="#444" stroke-width="0.9"/>
<line x1="119.95" y1="385.4" x2="119.95" y2="388.4" stroke="#444" stroke-width="0.9"/>
<line x1="119.95" y1="220.4" x2="119.95" y2="223.4" stroke="#444" stroke-width="0.9"/>
<line x1="129.26" y1="385.4" x2="129.26" y2="387" stroke="#444" stroke-width="0.9"/>
<line x1="129.26" y1="220.4" x2="129.26" y2="222" stroke="#444" stroke-width="0.9"/>
<line x1="138.58" y1="385.4" x2="138.58" y2="388.4" stroke="#444" stroke-width="0.9"/>
<line x1="138.58" y1="220.4" x2="138.58" y2="223.4" stroke="#444" stroke-width="0.9"/>
<line x1="147.9" y1="385.4" x2="147.9" y2="387" stroke="#444" stroke-width="0.9"/>
<line x1="147.9" y1="220.4" x2="147.9" y2="222" stroke="#444" stroke-width="0.9"/>
<line x1="157.22" y1="385.4" x2="157.22" y2="388.4" stroke="#444" stroke-width="0.9"/>
<line x1="157.22" y1="220.4" x2="157.22" y2="223.4" stroke="#444" stroke-width="0.9"/>
<line x1="166.54" y1="385.4" x2="166.54" y2="387" stroke="#444" stroke-width="0.9"/>
<line x1="166.54" y1="220.4" x2="166.54" y2="222" stroke="#444" stroke-width="0.9"/>
<line x1="175.85" y1="385.4" x2="175.85" y2="388.4" stroke="#444" stroke-width="0.9"/>
<line x1="175.85" y1="220.4" x2="175.85" y2="223.4" stroke="#444" stroke-width="0.9"/>
<line x1="185.17" y1="385.4" x2="185.17" y2="387" stroke="#444" stroke-width="0.9"/>
<line x1="185.17" y1="220.4" x2="185.17" y2="222" stroke="#444" stroke-width="0.9"/>
<line x1="194.49" y1="385.4" x2="194.49" y2="388.4" stroke="#444" stroke-width="0.9"/>
<line x1="194.49" y1="220.4" x2="194.49" y2="223.4" stroke="#444" stroke-width="0.9"/>
<line x1="203.81" y1="385.4" x2="203.81" y2="387" stroke="#444" stroke-width="0.9"/>
<line x1="203.81" y1="220.4" x2="203.81" y2="222" stroke="#444" stroke-width="0.9"/>
<line x1="213.13" y1="385.4" x2="213.13" y2="388.4" stroke="#444" stroke-width="0.9"/>
<line x1="213.13" y1="220.4" x2="213.13" y2="223.4" stroke="#444" stroke-width="0.9"/>
<line x1="222.45" y1="385.4" x2="222.45" y2="387" stroke="#444" stroke-width="0.9"/>
<line x1="222.45" y1="220.4" x2="222.45" y2="222" stroke="#444" stroke-width="0.9"/>
<line x1="231.76" y1="385.4" x2="231.76" y2="388.4" stroke="#444" stroke-width="0.9"/>
<line x1="231.76" y1="220.4" x2="231.76" y2="223.4" stroke="#444" stroke-width="0.9"/>
<line x1="241.08" y1="385.4" x2="241.08" y2="387" stroke="#444" stroke-width="0.9"/>
<line x1="241.08" y1="220.4" x2="241.08" y2="222" stroke="#444" stroke-width="0.9"/>
<line x1="250.4" y1="385.4" x2="250.4" y2="388.4" stroke="#444" stroke-width="0.9"/>
<line x1="250.4" y1="220.4" x2="250.4" y2="223.4" stroke="#444" stroke-width="0.9"/>
<line x1="42.4" y1="385.4" x2="45.4" y2="385.4" stroke="#444" stroke-width="0.9"/>
<line x1="247.4" y1="385.4" x2="250.4" y2="385.4" stroke="#444" stroke-width="0.9"/>
<line x1="43.8" y1="377.9" x2="45.4" y2="377.9" stroke="#444" stroke-width="0.9"/>
<line x1="248.8" y1="377.9" x2="250.4" y2="377.9" stroke="#444" stroke-width="0.9"/>
<line x1="42.4" y1="370.4" x2="45.4" y2="370.4" stroke="#444" stroke-width="0.9"/>
<line x1="247.4" y1="370.4" x2="250.4" y2="370.4" stroke="#444" stroke-width="0.9"/>
<line x1="43.8" y1="362.9" x2="45.4" y2="362.9" stroke="#444" stroke-width="0.9"/>
<line x1="248.8" y1="362.9" x2="250.4" y2="362.9" stroke="#444" stroke-width="0.9"/>
<line x1="42.4" y1="355.4" x2="45.4" y2="355.4" stroke="#444" stroke-width="0.9"/>
<line x1="247.4" y1="355.4" x2="250.4" y2="355.4" stroke="#444" stroke-width="0.9"/>
<line x1="43.8" y1="347.9" x2="45.4" y2="347.9" stroke="#444" stroke-width="0.9"/>
<line x1="248.8" y1="347.9" x2="250.4" y2="347.9" stroke="#444" stroke-width="0.9"/>
<line x1="42.4" y1="340.4" x2="45.4" y2="340.4" stroke="#444" stroke-width="0.9"/>
<line x1="247.4" y1="340.4" x2="250.4" y2="340.4" stroke="#444" stroke-width="0.9"/>
<line x1="43.8" y1="332.9" x2="45.4" y2="332.9" stroke="#444" stroke-width="0.9"/>
<line x1="248.8" y1="332.9" x2="250.4" y2="332.9" stroke="#444" stroke-width="0.9"/>
<line x1="42.4" y1="325.4" x2="45.4" y2="325.4" stroke="#444" stroke-width="0.9"/>
<line x1="247.4" y1="325.4" x2="250.4" y2="325.4" stroke="#444" stroke-width="0.9"/>
<line x1="43.8" y1="317.9" x2="45.4" y2="317.9" stroke="#444" stroke-width="0.9"/>
<line x1="248.8" y1="317.9" x2="250.4" y2="317.9" stroke="#444" stroke-width="0.9"/>
<line x1="42.4" y1="310.4" x2="45.4" y2="310.4" stroke="#444" stroke-width="0.9"/>
<line x1="247.4" y1="310.4" x2="250.4" y2="310.4" stroke="#444" stroke-width="0.9"/>
<line x1="43.8" y1="302.9" x2="45.4" y2="302.9" stroke="#444" stroke-width="0.9"/>
<line x1="248.8" y1="302.9" x2="250.4" y2="302.9" stroke="#444" stroke-width="0.9"/>
<line x1="42.4" y1="295.4" x2="45.4" y2="295.4" stroke="#444" stroke-width="0.9"/>
<line x1="247.4" y1="295.4" x2="250.4" y2="295.4" stroke="#444" stroke-width="0.9"/>
<line x1="43.8" y1="287.9" x2="45.4" y2="287.9" stroke="#444" stroke-width="0.9"/>
<line x1="248.8" y1="287.9" x2="250.4" y2="287.9" stroke="#444" stroke-width="0.9"/>
<line x1="42.4" y1="280.4" x2="45.4" y2="280.4" stroke="#444" stroke-width="0.9"/>
<line x1="247.4" y1="280.4" x2="250.4" y2="280.4" stroke="#444" stroke-width="0.9"/>
<line x1="43.8" y1="272.9" x2="45.4" y2="272.9" stroke="#444" stroke-width="0.9"/>
<line x1="248.8" y1="272.9" x2="250.4" y2="272.9" stroke="#444" stroke-width="0.9"/>
<line x1="42.4" y1="265.4" x2="45.4" y2="265.4" stroke="#444" stroke-width="0.9"/>
<line x1="247.4" y1="265.4" x2="250.4" y2="265.4" stroke="#444" stroke-width="0.9"/>
<line x1="43.8" y1="257.9" x2="45.4" y2="257.9" stroke="#444" stroke-width="0.9"/>
<line x1="248.8" y1="257.9" x2="250.4" y2="257.9" stroke="#444" stroke-width="0.9"/>
<line x1="42.4" y1="250.4" x2="45.4" y2="250.4" stroke="#444" stroke-width="0.9"/>
<line x1="247.4" y1="250.4" x2="250.4" y2="250.4" stroke="#444" stroke-width="0.9"/>
<line x1="43.8" y1="242.9" x2="45.4" y2="242.9" stroke="#444" stroke-width="0.9"/>
<line x1="248.8" y1="242.9" x2="250.4" y2="242.9" stroke="#444" stroke-width="0.9"/>
<line x1="42.4" y1="235.4" x2="45.4" y2="235.4" stroke="#444" stroke-width="0.9"/>
<line x1="247.4" y1="235.4" x2="250.4" y2="235.4" stroke="#444" stroke-width="0.9"/>
<line x1="43.8" y1="227.9" x2="45.4" y2="227.9" stroke="#444" stroke-width="0.9"/>
<line x1="248.8" y1="227.9" x2="250.4" y2="227.9" stroke="#444" stroke-width="0.9"/>
<line x1="42.4" y1="220.4" x2="45.4" y2="220.4" stroke="#444" stroke-width="0.9"/>
<line x1="247.4" y1="220.4" x2="250.4" y2="220.4" stroke="#444" stroke-width="0.9"/>
<rect x="45.4" y="220.4" width="205" height="165" fill="none" stroke="#444" stroke-width="1"/>
<text x="45.4" y="396.9" font-size="6.6" text-anchor="middle" font-weight="bold" fill="#000" style="stroke:#000;stroke-width:0.22px">0</text>
<text x="64.04" y="396.9" font-size="6.6" text-anchor="middle" font-weight="bold" fill="#000" style="stroke:#000;stroke-width:0.22px">50</text>
<text x="82.67" y="396.9" font-size="6.6" text-anchor="middle" font-weight="bold" fill="#000" style="stroke:#000;stroke-width:0.22px">100</text>
<text x="101.31" y="396.9" font-size="6.6" text-anchor="middle" font-weight="bold" fill="#000" style="stroke:#000;stroke-width:0.22px">150</text>
<text x="119.95" y="396.9" font-size="6.6" text-anchor="middle" font-weight="bold" fill="#000" style="stroke:#000;stroke-width:0.22px">200</text>
<text x="138.58" y="396.9" font-size="6.6" text-anchor="middle" font-weight="bold" fill="#000" style="stroke:#000;stroke-width:0.22px">250</text>
<text x="157.22" y="396.9" font-size="6.6" text-anchor="middle" font-weight="bold" fill="#000" style="stroke:#000;stroke-width:0.22px">300</text>
<text x="175.85" y="396.9" font-size="6.6" text-anchor="middle" font-weight="bold" fill="#000" style="stroke:#000;stroke-width:0.22px">350</text>
<text x="194.49" y="396.9" font-size="6.6" text-anchor="middle" font-weight="bold" fill="#000" style="stroke:#000;stroke-width:0.22px">400</text>
<text x="213.13" y="396.9" font-size="6.6" text-anchor="middle" font-weight="bold" fill="#000" style="stroke:#000;stroke-width:0.22px">450</text>
<text x="231.76" y="396.9" font-size="6.6" text-anchor="middle" font-weight="bold" fill="#000" style="stroke:#000;stroke-width:0.22px">500</text>
<text x="250.4" y="396.9" font-size="6.6" text-anchor="middle" font-weight="bold" fill="#000" style="stroke:#000;stroke-width:0.22px">550</text>
<text x="39.8" y="387.31" font-size="6.6" text-anchor="end" font-weight="bold" fill="#000" style="stroke:#000;stroke-width:0.22px">0</text>
<text x="39.8" y="372.31" font-size="6.6" text-anchor="end" font-weight="bold" fill="#000" style="stroke:#000;stroke-width:0.22px">50</text>
<text x="39.8" y="357.31" font-size="6.6" text-anchor="end" font-weight="bold" fill="#000" style="stroke:#000;stroke-width:0.22px">100</text>
<text x="39.8" y="342.31" font-size="6.6" text-anchor="end" font-weight="bold" fill="#000" style="stroke:#000;stroke-width:0.22px">150</text>
<text x="39.8" y="327.31" font-size="6.6" text-anchor="end" font-weight="bold" fill="#000" style="stroke:#000;stroke-width:0.22px">200</text>
<text x="39.8" y="312.31" font-size="6.6" text-anchor="end" font-weight="bold" fill="#000" style="stroke:#000;stroke-width:0.22px">250</text>
<text x="39.8" y="297.31" font-size="6.6" text-anchor="end" font-weight="bold" fill="#000" style="stroke:#000;stroke-width:0.22px">300</text>
<text x="39.8" y="282.31" font-size="6.6" text-anchor="end" font-weight="bold" fill="#000" style="stroke:#000;stroke-width:0.22px">350</text>
<text x="39.8" y="267.31" font-size="6.6" text-anchor="end" font-weight="bold" fill="#000" style="stroke:#000;stroke-width:0.22px">400</text>
<text x="39.8" y="252.31" font-size="6.6" text-anchor="end" font-weight="bold" fill="#000" style="stroke:#000;stroke-width:0.22px">450</text>
<text x="39.8" y="237.31" font-size="6.6" text-anchor="end" font-weight="bold" fill="#000" style="stroke:#000;stroke-width:0.22px">500</text>
<text x="39.8" y="222.31" font-size="6.6" text-anchor="end" font-weight="bold" fill="#000" style="stroke:#000;stroke-width:0.22px">550</text>
<text x="5.6" y="228.6" font-size="12.2" text-anchor="start" font-weight="bold" fill="#111" >(c)</text>
<text x="148.1" y="411.9" font-size="8.6" text-anchor="middle" font-weight="normal" fill="#111" class="at">ReZ, Ohm</text>
<text class="at" x="24.4" y="304.1" font-size="8.8" text-anchor="middle" fill="#111" transform="rotate(-90 24.4 304.1)">&#8722;ImZ, Ohm</text>
<clipPath id="cc"><rect x="45.4" y="220.4" width="205.0" height="164.99999999999997"/></clipPath>
<path d="M48.8,385.2C49.2,384.4 49.56,383.59 50,382.8C50.45,381.99 50.96,381.19 51.5,380.4C52.06,379.59 52.67,378.79 53.3,378C53.94,377.19 54.61,376.4 55.3,375.6C56.01,374.77 56.61,373.9 57.5,373.1C58.55,372.15 59.91,371.2 61.3,370.4C62.79,369.55 64.52,368.86 66.2,368.2C67.92,367.52 69.68,366.9 71.5,366.4C73.37,365.89 75.37,365.52 77.3,365.2C79.2,364.89 81.21,364.59 83,364.5C84.59,364.42 86.22,364.56 87.5,364.6C88.46,364.63 89.01,364.56 90,364.7C91.49,364.92 93.59,365.66 95.5,366.1C97.55,366.57 99.97,366.81 101.9,367.4C103.59,367.91 104.95,368.57 106.5,369.3C108.15,370.08 109.94,371.05 111.5,372C112.96,372.89 114.16,373.96 115.6,374.8C117.06,375.66 118.78,376.55 120.2,377.1C121.34,377.54 122.38,378.02 123.4,378C124.34,377.98 125.3,377.65 126.1,377.1C127,376.48 127.72,375.34 128.4,374.3C129.13,373.19 129.76,371.84 130.3,370.6C130.82,369.41 131.17,368.28 131.6,367C132.08,365.57 132.54,363.97 133,362.4C133.48,360.77 133.86,359.68 134.4,357.4C135.54,352.62 137.13,343.39 138.8,335C140.94,324.25 143.9,309.59 146.2,298.2C148.19,288.34 149.83,280.5 151.8,270.6C154.09,259.08 156.67,245.67 159.1,233.2" fill="none" stroke="#1a1a1a" stroke-width="1.2" stroke-linejoin="round" clip-path="url(#cc)"/>
<g fill="#000" clip-path="url(#cc)"><circle cx="48.8" cy="385.2" r="1.05"/><circle cx="49.24" cy="384.3" r="1.05"/><circle cx="49.81" cy="383.15" r="1.05"/><circle cx="50.63" cy="381.73" r="1.05"/><circle cx="51.8" cy="379.97" r="1.05"/><circle cx="53.45" cy="377.81" r="1.05"/><circle cx="55.69" cy="375.14" r="1.05"/><circle cx="58.75" cy="372.08" r="1.05"/><circle cx="62.72" cy="369.66" r="1.05"/><circle cx="67.33" cy="367.77" r="1.05"/><circle cx="72.43" cy="366.16" r="1.05"/><circle cx="78.05" cy="365.08" r="1.05"/><circle cx="84.16" cy="364.48" r="1.05"/><circle cx="90.57" cy="364.8" r="1.05"/><circle cx="96.37" cy="366.28" r="1.05"/><circle cx="101.85" cy="367.38" r="1.05"/><circle cx="106.66" cy="369.38" r="1.05"/><circle cx="110.96" cy="371.67" r="1.05"/><circle cx="114.71" cy="374.23" r="1.05"/><circle cx="118.3" cy="376.26" r="1.05"/><circle cx="121.73" cy="377.69" r="1.05"/><circle cx="123.4" cy="378" r="1.05"/><circle cx="127.22" cy="376" r="1.05"/><circle cx="130.17" cy="370.9" r="1.05"/><circle cx="132.53" cy="364" r="1.05"/><circle cx="134.67" cy="356.2" r="1.05"/><circle cx="136.56" cy="346.7" r="1.05"/><circle cx="138.88" cy="334.6" r="1.05"/><circle cx="142" cy="319" r="1.05"/><circle cx="146.2" cy="298.2" r="1.05"/><circle cx="151.8" cy="270.6" r="1.05"/><circle cx="159.1" cy="233.2" r="1.05"/></g>
<path d="M63.2,385.2C63.67,384.6 64.07,384.04 64.6,383.4C65.24,382.63 66.09,381.74 66.8,380.9C67.49,380.07 68.13,379.22 68.8,378.4C69.46,377.59 70.08,376.77 70.8,376C71.54,375.2 72.36,374.45 73.2,373.7C74.06,372.92 74.99,372.1 75.9,371.4C76.76,370.74 77.62,370.2 78.5,369.6C79.39,369 80.22,368.45 81.2,367.8C82.36,367.03 83.65,366.12 85,365.3C86.47,364.41 88.05,363.58 89.7,362.7C91.5,361.74 93.54,360.67 95.4,359.8C97.13,358.99 98.79,358.24 100.5,357.6C102.16,356.98 103.93,356.51 105.5,356C106.91,355.55 108.15,355.1 109.5,354.7C110.85,354.3 112.22,353.95 113.6,353.6C114.99,353.25 116.42,352.94 117.8,352.6C119.15,352.27 120.45,351.9 121.8,351.6C123.15,351.3 124.53,351.03 125.9,350.8C127.26,350.57 128.56,350.39 130,350.2C131.58,349.99 133.22,349.75 135,349.6C137.02,349.43 139.42,349.33 141.5,349.3C143.41,349.27 145.19,349.31 147,349.4C148.76,349.48 150.46,349.6 152.2,349.8C153.96,350 155.74,350.28 157.5,350.6C159.27,350.92 161.09,351.3 162.8,351.7C164.42,352.07 165.93,352.47 167.5,352.9C169.1,353.34 170.72,353.78 172.3,354.3C173.88,354.82 175.44,355.42 177,356C178.57,356.58 180.13,357.16 181.7,357.8C183.3,358.46 184.91,359.2 186.5,359.9C188.08,360.6 189.74,361.35 191.2,362C192.48,362.57 193.6,363.13 194.8,363.6C195.96,364.06 197.18,364.51 198.3,364.8C199.3,365.06 200.22,365.22 201.2,365.3C202.19,365.38 203.21,365.41 204.2,365.3C205.21,365.18 206.23,364.94 207.2,364.6C208.19,364.25 209.1,363.75 210.1,363.2C211.23,362.58 212.44,361.8 213.6,361C214.81,360.17 216,359.21 217.2,358.3C218.4,357.38 219.61,356.44 220.8,355.5C221.98,354.57 223.14,353.65 224.3,352.7C225.47,351.75 226.62,350.76 227.8,349.8C228.99,348.83 230.23,347.92 231.4,346.9C232.6,345.86 233.75,344.74 234.9,343.6C236.08,342.44 237.24,341.24 238.4,340C239.6,338.71 240.83,337.37 242,336C243.19,334.61 244.42,332.99 245.5,331.7C246.4,330.63 247.17,329.73 248,328.8C248.8,327.9 249.68,326.97 250.4,326.2C250.99,325.57 251.47,325.07 252,324.5" fill="none" stroke="#e8262b" stroke-width="1.2" stroke-linejoin="round" clip-path="url(#cc)"/>
<g fill="#d4000a" clip-path="url(#cc)"><circle cx="63.2" cy="385.2" r="1.05"/><circle cx="63.93" cy="384.25" r="1.05"/><circle cx="65.06" cy="382.86" r="1.05"/><circle cx="66.82" cy="380.88" r="1.05"/><circle cx="69.29" cy="377.79" r="1.05"/><circle cx="73.16" cy="373.73" r="1.05"/><circle cx="78.27" cy="369.76" r="1.05"/><circle cx="84.48" cy="365.62" r="1.05"/><circle cx="92.03" cy="361.48" r="1.05"/><circle cx="101.07" cy="357.39" r="1.05"/><circle cx="111.03" cy="354.27" r="1.05"/><circle cx="121.09" cy="351.77" r="1.05"/><circle cx="131.2" cy="350.04" r="1.05"/><circle cx="141.35" cy="349.3" r="1.05"/><circle cx="151.43" cy="349.72" r="1.05"/><circle cx="161.29" cy="351.36" r="1.05"/><circle cx="170.32" cy="353.69" r="1.05"/><circle cx="178.48" cy="356.55" r="1.05"/><circle cx="185.87" cy="359.62" r="1.05"/><circle cx="192.65" cy="362.66" r="1.05"/><circle cx="199.11" cy="364.99" r="1.05"/><circle cx="205.44" cy="365.1" r="1.05"/><circle cx="210.95" cy="362.71" r="1.05"/><circle cx="216.03" cy="359.2" r="1.05"/><circle cx="221.03" cy="355.32" r="1.05"/><circle cx="226.07" cy="351.24" r="1.05"/><circle cx="231.22" cy="347.05" r="1.05"/><circle cx="236.14" cy="342.35" r="1.05"/><circle cx="240.9" cy="337.26" r="1.05"/><circle cx="245.45" cy="331.75" r="1.05"/><circle cx="250.32" cy="326.29" r="1.05"/></g>
<path d="M48.6,385.2C49,384.33 49.39,383.44 49.8,382.6C50.19,381.8 50.57,381.02 51,380.3C51.41,379.62 51.81,379.04 52.3,378.4C52.86,377.68 53.54,376.88 54.2,376.2C54.84,375.55 55.38,375 56.2,374.4C57.29,373.6 58.85,372.68 60.3,372C61.81,371.3 63.47,370.72 65.1,370.3C66.71,369.89 68.36,369.63 70,369.5C71.63,369.37 73.27,369.43 74.9,369.5C76.53,369.57 78.27,369.58 79.8,369.9C81.22,370.2 82.52,370.83 83.8,371.3C84.98,371.73 86.13,372.15 87.2,372.6C88.19,373.02 88.9,373.43 90,373.9C91.52,374.56 93.65,375.5 95.5,376.1C97.31,376.69 99.29,377.24 101,377.5C102.46,377.72 103.83,377.88 105.1,377.7C106.25,377.54 107.33,377.16 108.3,376.6C109.3,376.03 110.18,375.19 111,374.3C111.86,373.37 112.59,372.32 113.3,371.1C114.14,369.65 114.89,367.69 115.6,366.1C116.24,364.67 116.79,363.37 117.4,362C118.02,360.61 118.63,359.26 119.3,357.8C120.03,356.2 120.85,354.51 121.6,352.8C122.38,351.02 123.13,349.24 123.9,347.3C124.76,345.14 125.58,342.72 126.5,340.4C127.44,338.02 128.42,335.98 129.5,333.2C130.95,329.48 132.7,324.96 134.3,320C136.31,313.76 138.23,305.88 140.3,298.6C142.46,290.99 144.63,283.73 147,275.3C149.81,265.33 153.48,252.46 156,242.6C158.06,234.54 160.47,224.21 161.2,220.5C161.44,219.26 161.47,218.83 161.6,218" fill="none" stroke="#1f6fd8" stroke-width="1.2" stroke-linejoin="round" clip-path="url(#cc)"/>
<g fill="#1050c0" clip-path="url(#cc)"><circle cx="48.6" cy="385.2" r="1.05"/><circle cx="48.93" cy="384.47" r="1.05"/><circle cx="49.3" cy="383.66" r="1.05"/><circle cx="49.73" cy="382.74" r="1.05"/><circle cx="50.23" cy="381.73" r="1.05"/><circle cx="50.82" cy="380.61" r="1.05"/><circle cx="51.57" cy="379.41" r="1.05"/><circle cx="52.51" cy="378.13" r="1.05"/><circle cx="53.66" cy="376.77" r="1.05"/><circle cx="55.07" cy="375.34" r="1.05"/><circle cx="56.83" cy="373.96" r="1.05"/><circle cx="58.98" cy="372.66" r="1.05"/><circle cx="61.54" cy="371.47" r="1.05"/><circle cx="64.58" cy="370.44" r="1.05"/><circle cx="68.21" cy="369.69" r="1.05"/><circle cx="72.5" cy="369.43" r="1.05"/><circle cx="77.46" cy="369.61" r="1.05"/><circle cx="82.4" cy="370.75" r="1.05"/><circle cx="87.26" cy="372.63" r="1.05"/><circle cx="92.11" cy="374.8" r="1.05"/><circle cx="97.21" cy="376.63" r="1.05"/><circle cx="102.32" cy="377.68" r="1.05"/><circle cx="105.1" cy="377.7" r="1.05"/><circle cx="111" cy="374.3" r="1.05"/><circle cx="113.3" cy="371.1" r="1.05"/><circle cx="116.61" cy="363.8" r="1.05"/><circle cx="119.9" cy="356.5" r="1.05"/><circle cx="123.21" cy="349" r="1.05"/><circle cx="126.5" cy="340.4" r="1.05"/><circle cx="129.5" cy="333.2" r="1.05"/><circle cx="134.3" cy="320" r="1.05"/><circle cx="140.3" cy="298.6" r="1.05"/><circle cx="146.94" cy="275.5" r="1.05"/><circle cx="156" cy="242.6" r="1.05"/></g>
<rect x="46.9" y="225" width="58.4" height="45" fill="#fff" stroke="#9a9a9a" stroke-width="0.9"/>
<text class="lg" x="48.7" y="234.2" font-size="8.5" fill="#1a1a1a">1M NaPF<tspan font-size="5.5" dy="2.55">6</tspan><tspan dy="-2.55"> in</tspan></text>
<line x1="47.8" y1="243.5" x2="67.6" y2="243.5" stroke="#1a1a1a" stroke-width="1.1"/>
<circle cx="57.7" cy="243.5" r="1.05" fill="#000"/>
<text x="71.2" y="246.56" font-size="8.5" text-anchor="start" font-weight="normal" fill="#1a1a1a" class="lg">EC:DEC</text>
<line x1="47.8" y1="254.4" x2="67.6" y2="254.4" stroke="#e8262b" stroke-width="1.1"/>
<circle cx="57.7" cy="254.4" r="1.05" fill="#d4000a"/>
<text x="71.2" y="257.46" font-size="8.5" text-anchor="start" font-weight="normal" fill="#1a1a1a" class="lg">EC:DME</text>
<line x1="47.8" y1="265.1" x2="67.6" y2="265.1" stroke="#1f6fd8" stroke-width="1.1"/>
<circle cx="57.7" cy="265.1" r="1.05" fill="#1050c0"/>
<text x="71.2" y="268.16" font-size="8.5" text-anchor="start" font-weight="normal" fill="#1a1a1a" class="lg">EC:DMC</text>
<text y="292.6" font-size="14.2" fill="#111"><tspan x="54.9">-20</tspan><tspan x="79.4" y="288.9" font-size="7.2">o</tspan><tspan x="83.4" y="292.6">C</tspan></text>
<line x1="329.3" y1="385" x2="329.3" y2="388" stroke="#444" stroke-width="0.9"/>
<line x1="329.3" y1="219.9" x2="329.3" y2="222.9" stroke="#444" stroke-width="0.9"/>
<line x1="342.11" y1="385" x2="342.11" y2="386.6" stroke="#444" stroke-width="0.9"/>
<line x1="342.11" y1="219.9" x2="342.11" y2="221.5" stroke="#444" stroke-width="0.9"/>
<line x1="354.93" y1="385" x2="354.93" y2="386.6" stroke="#444" stroke-width="0.9"/>
<line x1="354.93" y1="219.9" x2="354.93" y2="221.5" stroke="#444" stroke-width="0.9"/>
<line x1="367.74" y1="385" x2="367.74" y2="386.6" stroke="#444" stroke-width="0.9"/>
<line x1="367.74" y1="219.9" x2="367.74" y2="221.5" stroke="#444" stroke-width="0.9"/>
<line x1="380.55" y1="385" x2="380.55" y2="388" stroke="#444" stroke-width="0.9"/>
<line x1="380.55" y1="219.9" x2="380.55" y2="222.9" stroke="#444" stroke-width="0.9"/>
<line x1="393.36" y1="385" x2="393.36" y2="386.6" stroke="#444" stroke-width="0.9"/>
<line x1="393.36" y1="219.9" x2="393.36" y2="221.5" stroke="#444" stroke-width="0.9"/>
<line x1="406.17" y1="385" x2="406.17" y2="386.6" stroke="#444" stroke-width="0.9"/>
<line x1="406.17" y1="219.9" x2="406.17" y2="221.5" stroke="#444" stroke-width="0.9"/>
<line x1="418.99" y1="385" x2="418.99" y2="386.6" stroke="#444" stroke-width="0.9"/>
<line x1="418.99" y1="219.9" x2="418.99" y2="221.5" stroke="#444" stroke-width="0.9"/>
<line x1="431.8" y1="385" x2="431.8" y2="388" stroke="#444" stroke-width="0.9"/>
<line x1="431.8" y1="219.9" x2="431.8" y2="222.9" stroke="#444" stroke-width="0.9"/>
<line x1="444.61" y1="385" x2="444.61" y2="386.6" stroke="#444" stroke-width="0.9"/>
<line x1="444.61" y1="219.9" x2="444.61" y2="221.5" stroke="#444" stroke-width="0.9"/>
<line x1="457.42" y1="385" x2="457.42" y2="386.6" stroke="#444" stroke-width="0.9"/>
<line x1="457.42" y1="219.9" x2="457.42" y2="221.5" stroke="#444" stroke-width="0.9"/>
<line x1="470.24" y1="385" x2="470.24" y2="386.6" stroke="#444" stroke-width="0.9"/>
<line x1="470.24" y1="219.9" x2="470.24" y2="221.5" stroke="#444" stroke-width="0.9"/>
<line x1="483.05" y1="385" x2="483.05" y2="388" stroke="#444" stroke-width="0.9"/>
<line x1="483.05" y1="219.9" x2="483.05" y2="222.9" stroke="#444" stroke-width="0.9"/>
<line x1="495.86" y1="385" x2="495.86" y2="386.6" stroke="#444" stroke-width="0.9"/>
<line x1="495.86" y1="219.9" x2="495.86" y2="221.5" stroke="#444" stroke-width="0.9"/>
<line x1="508.67" y1="385" x2="508.67" y2="386.6" stroke="#444" stroke-width="0.9"/>
<line x1="508.67" y1="219.9" x2="508.67" y2="221.5" stroke="#444" stroke-width="0.9"/>
<line x1="521.49" y1="385" x2="521.49" y2="386.6" stroke="#444" stroke-width="0.9"/>
<line x1="521.49" y1="219.9" x2="521.49" y2="221.5" stroke="#444" stroke-width="0.9"/>
<line x1="534.3" y1="385" x2="534.3" y2="388" stroke="#444" stroke-width="0.9"/>
<line x1="534.3" y1="219.9" x2="534.3" y2="222.9" stroke="#444" stroke-width="0.9"/>
<line x1="326.3" y1="385" x2="329.3" y2="385" stroke="#444" stroke-width="0.9"/>
<line x1="531.3" y1="385" x2="534.3" y2="385" stroke="#444" stroke-width="0.9"/>
<line x1="327.7" y1="374.68" x2="329.3" y2="374.68" stroke="#444" stroke-width="0.9"/>
<line x1="532.7" y1="374.68" x2="534.3" y2="374.68" stroke="#444" stroke-width="0.9"/>
<line x1="326.3" y1="364.36" x2="329.3" y2="364.36" stroke="#444" stroke-width="0.9"/>
<line x1="531.3" y1="364.36" x2="534.3" y2="364.36" stroke="#444" stroke-width="0.9"/>
<line x1="327.7" y1="354.04" x2="329.3" y2="354.04" stroke="#444" stroke-width="0.9"/>
<line x1="532.7" y1="354.04" x2="534.3" y2="354.04" stroke="#444" stroke-width="0.9"/>
<line x1="326.3" y1="343.73" x2="329.3" y2="343.73" stroke="#444" stroke-width="0.9"/>
<line x1="531.3" y1="343.73" x2="534.3" y2="343.73" stroke="#444" stroke-width="0.9"/>
<line x1="327.7" y1="333.41" x2="329.3" y2="333.41" stroke="#444" stroke-width="0.9"/>
<line x1="532.7" y1="333.41" x2="534.3" y2="333.41" stroke="#444" stroke-width="0.9"/>
<line x1="326.3" y1="323.09" x2="329.3" y2="323.09" stroke="#444" stroke-width="0.9"/>
<line x1="531.3" y1="323.09" x2="534.3" y2="323.09" stroke="#444" stroke-width="0.9"/>
<line x1="327.7" y1="312.77" x2="329.3" y2="312.77" stroke="#444" stroke-width="0.9"/>
<line x1="532.7" y1="312.77" x2="534.3" y2="312.77" stroke="#444" stroke-width="0.9"/>
<line x1="326.3" y1="302.45" x2="329.3" y2="302.45" stroke="#444" stroke-width="0.9"/>
<line x1="531.3" y1="302.45" x2="534.3" y2="302.45" stroke="#444" stroke-width="0.9"/>
<line x1="327.7" y1="292.13" x2="329.3" y2="292.13" stroke="#444" stroke-width="0.9"/>
<line x1="532.7" y1="292.13" x2="534.3" y2="292.13" stroke="#444" stroke-width="0.9"/>
<line x1="326.3" y1="281.81" x2="329.3" y2="281.81" stroke="#444" stroke-width="0.9"/>
<line x1="531.3" y1="281.81" x2="534.3" y2="281.81" stroke="#444" stroke-width="0.9"/>
<line x1="327.7" y1="271.49" x2="329.3" y2="271.49" stroke="#444" stroke-width="0.9"/>
<line x1="532.7" y1="271.49" x2="534.3" y2="271.49" stroke="#444" stroke-width="0.9"/>
<line x1="326.3" y1="261.18" x2="329.3" y2="261.18" stroke="#444" stroke-width="0.9"/>
<line x1="531.3" y1="261.18" x2="534.3" y2="261.18" stroke="#444" stroke-width="0.9"/>
<line x1="327.7" y1="250.86" x2="329.3" y2="250.86" stroke="#444" stroke-width="0.9"/>
<line x1="532.7" y1="250.86" x2="534.3" y2="250.86" stroke="#444" stroke-width="0.9"/>
<line x1="326.3" y1="240.54" x2="329.3" y2="240.54" stroke="#444" stroke-width="0.9"/>
<line x1="531.3" y1="240.54" x2="534.3" y2="240.54" stroke="#444" stroke-width="0.9"/>
<line x1="327.7" y1="230.22" x2="329.3" y2="230.22" stroke="#444" stroke-width="0.9"/>
<line x1="532.7" y1="230.22" x2="534.3" y2="230.22" stroke="#444" stroke-width="0.9"/>
<line x1="326.3" y1="219.9" x2="329.3" y2="219.9" stroke="#444" stroke-width="0.9"/>
<line x1="531.3" y1="219.9" x2="534.3" y2="219.9" stroke="#444" stroke-width="0.9"/>
<rect x="329.3" y="219.9" width="205" height="165.1" fill="none" stroke="#444" stroke-width="1"/>
<text x="329.3" y="395.6" font-size="6.5" text-anchor="middle" font-weight="bold" fill="#000" style="stroke:#000;stroke-width:0.22px">0</text>
<text x="380.55" y="395.6" font-size="6.5" text-anchor="middle" font-weight="bold" fill="#000" style="stroke:#000;stroke-width:0.22px">50,000</text>
<text x="431.8" y="395.6" font-size="6.5" text-anchor="middle" font-weight="bold" fill="#000" style="stroke:#000;stroke-width:0.22px">100,000</text>
<text x="483.05" y="395.6" font-size="6.5" text-anchor="middle" font-weight="bold" fill="#000" style="stroke:#000;stroke-width:0.22px">150,000</text>
<text x="534.3" y="395.6" font-size="6.5" text-anchor="middle" font-weight="bold" fill="#000" style="stroke:#000;stroke-width:0.22px">200,000</text>
<text x="324.5" y="387.34" font-size="6.5" text-anchor="end" font-weight="bold" fill="#000" style="stroke:#000;stroke-width:0.22px">0</text>
<text x="324.5" y="366.7" font-size="6.5" text-anchor="end" font-weight="bold" fill="#000" style="stroke:#000;stroke-width:0.22px">25,000</text>
<text x="324.5" y="346.06" font-size="6.5" text-anchor="end" font-weight="bold" fill="#000" style="stroke:#000;stroke-width:0.22px">50,000</text>
<text x="324.5" y="325.43" font-size="6.5" text-anchor="end" font-weight="bold" fill="#000" style="stroke:#000;stroke-width:0.22px">75,000</text>
<text x="324.5" y="304.79" font-size="6.5" text-anchor="end" font-weight="bold" fill="#000" style="stroke:#000;stroke-width:0.22px">100,000</text>
<text x="324.5" y="284.15" font-size="6.5" text-anchor="end" font-weight="bold" fill="#000" style="stroke:#000;stroke-width:0.22px">125,000</text>
<text x="324.5" y="263.51" font-size="6.5" text-anchor="end" font-weight="bold" fill="#000" style="stroke:#000;stroke-width:0.22px">150,000</text>
<text x="324.5" y="242.88" font-size="6.5" text-anchor="end" font-weight="bold" fill="#000" style="stroke:#000;stroke-width:0.22px">175,000</text>
<text x="324.5" y="222.24" font-size="6.5" text-anchor="end" font-weight="bold" fill="#000" style="stroke:#000;stroke-width:0.22px">200,000</text>
<text x="280.9" y="228.6" font-size="12.2" text-anchor="start" font-weight="bold" fill="#111" >(d)</text>
<text x="431.6" y="410.3" font-size="8.6" text-anchor="middle" font-weight="normal" fill="#111" class="at">ReZ, Ohm</text>
<text class="at" x="297.8" y="304.9" font-size="8.8" text-anchor="middle" fill="#111" transform="rotate(-90 297.8 304.9)">&#8722;ImZ, Ohm</text>
<clipPath id="cd"><rect x="329.3" y="219.9" width="204.99999999999994" height="165.1"/></clipPath>
<path d="M337,384.4C337.73,383.43 338.42,382.47 339.2,381.5C340.02,380.47 340.91,379.48 341.8,378.4C342.77,377.23 343.79,375.93 344.8,374.7C345.82,373.46 346.87,372.21 347.9,371C348.9,369.81 349.9,368.63 350.9,367.5C351.87,366.4 352.83,365.3 353.8,364.3C354.7,363.37 355.58,362.54 356.5,361.7C357.41,360.87 358.33,360.11 359.3,359.3C360.33,358.44 361.41,357.54 362.5,356.7C363.58,355.87 364.62,355.11 365.8,354.3C367.1,353.41 368.56,352.46 370,351.6C371.46,350.73 372.91,349.92 374.5,349.1C376.23,348.21 378.15,347.3 380,346.5C381.82,345.71 383.55,345.04 385.5,344.3C387.69,343.47 390.14,342.52 392.5,341.8C394.84,341.09 397.24,340.52 399.6,340C401.91,339.49 404.16,339.05 406.5,338.7C408.89,338.34 411.33,338.08 413.8,337.9C416.33,337.71 418.94,337.63 421.5,337.6C424.04,337.57 426.55,337.55 429.1,337.7C431.71,337.85 434.41,338.16 437,338.5C439.51,338.83 442.03,339.27 444.4,339.7C446.61,340.1 448.68,340.55 450.8,341C452.91,341.45 455.09,341.9 457.1,342.4C458.98,342.87 460.69,343.39 462.5,343.9C464.33,344.42 466.24,344.98 468,345.5C469.63,345.98 471.13,346.43 472.7,346.9C474.27,347.37 475.88,347.84 477.4,348.3C478.84,348.74 480.2,349.18 481.6,349.6C483,350.02 484.46,350.44 485.8,350.8C487.02,351.13 488.14,351.41 489.3,351.7C490.44,351.98 491.54,352.23 492.7,352.5C493.93,352.79 495.22,353.15 496.5,353.4C497.79,353.65 499.19,353.84 500.4,354C501.44,354.13 502.33,354.23 503.3,354.3C504.27,354.37 505.21,354.38 506.2,354.4C507.24,354.42 508.33,354.42 509.4,354.4C510.47,354.38 511.53,354.33 512.6,354.3" fill="none" stroke="#e8262b" stroke-width="1.2" stroke-linejoin="round" clip-path="url(#cd)"/>
<g fill="#d4000a" clip-path="url(#cd)"><circle cx="337" cy="384.4" r="1.05"/><circle cx="337.96" cy="383.12" r="1.05"/><circle cx="338.96" cy="381.8" r="1.05"/><circle cx="340.04" cy="380.47" r="1.05"/><circle cx="341.19" cy="379.12" r="1.05"/><circle cx="342.36" cy="377.71" r="1.05"/><circle cx="343.55" cy="376.23" r="1.05"/><circle cx="344.79" cy="374.71" r="1.05"/><circle cx="346.09" cy="373.15" r="1.05"/><circle cx="347.44" cy="371.54" r="1.05"/><circle cx="347.9" cy="371" r="1.05"/><circle cx="353.8" cy="364.3" r="1.05"/><circle cx="359.3" cy="359.3" r="1.05"/><circle cx="365.8" cy="354.3" r="1.05"/><circle cx="374.5" cy="349.1" r="1.05"/><circle cx="385.5" cy="344.3" r="1.05"/><circle cx="399.6" cy="340" r="1.05"/><circle cx="413.8" cy="337.9" r="1.05"/><circle cx="429.1" cy="337.7" r="1.05"/><circle cx="444.4" cy="339.7" r="1.05"/><circle cx="457.1" cy="342.4" r="1.05"/><circle cx="468" cy="345.5" r="1.05"/><circle cx="477.4" cy="348.3" r="1.05"/><circle cx="485.8" cy="350.8" r="1.05"/><circle cx="492.7" cy="352.5" r="1.05"/><circle cx="500.4" cy="354" r="1.05"/><circle cx="506.2" cy="354.4" r="1.05"/><circle cx="512.6" cy="354.3" r="1.05"/></g>
<path d="M329.8,384.2 C331.5,383.3 335,383.2 337.8,383.9" fill="none" stroke="#1f6fd8" stroke-width="2.3"/>
<rect x="330.2" y="223.2" width="57.8" height="46.3" fill="#fff" stroke="#9a9a9a" stroke-width="0.9"/>
<text class="lg" x="331.9" y="233.2" font-size="8.5" fill="#1a1a1a">1M NaPF<tspan font-size="5.5" dy="2.55">6</tspan><tspan dy="-2.55"> in</tspan></text>
<line x1="331.8" y1="243.6" x2="351.1" y2="243.6" stroke="#1a1a1a" stroke-width="1.1"/>
<circle cx="341.45" cy="243.6" r="1.05" fill="#000"/>
<text x="354.2" y="246.66" font-size="8.5" text-anchor="start" font-weight="normal" fill="#1a1a1a" class="lg">EC:DEC</text>
<line x1="331.8" y1="253.4" x2="351.1" y2="253.4" stroke="#e8262b" stroke-width="1.1"/>
<circle cx="341.45" cy="253.4" r="1.05" fill="#d4000a"/>
<text x="354.2" y="256.46" font-size="8.5" text-anchor="start" font-weight="normal" fill="#1a1a1a" class="lg">EC:DME</text>
<line x1="331.8" y1="263.9" x2="351.1" y2="263.9" stroke="#1f6fd8" stroke-width="1.1"/>
<circle cx="341.45" cy="263.9" r="1.05" fill="#1050c0"/>
<text x="354.2" y="266.96" font-size="8.5" text-anchor="start" font-weight="normal" fill="#1a1a1a" class="lg">EC:DMC</text>
<text y="291.6" font-size="14.2" fill="#111"><tspan x="338.8">-40</tspan><tspan x="363" y="287.9" font-size="7.2">o</tspan><tspan x="367.3" y="291.6">C</tspan></text>
<rect x="396" y="222" width="130" height="106" fill="#fff"/>
<line x1="419.4" y1="310.2" x2="419.4" y2="312.4" stroke="#444" stroke-width="0.9"/>
<line x1="419.4" y1="227.6" x2="419.4" y2="229.8" stroke="#444" stroke-width="0.9"/>
<line x1="426.74" y1="310.2" x2="426.74" y2="311.4" stroke="#444" stroke-width="0.9"/>
<line x1="426.74" y1="227.6" x2="426.74" y2="228.8" stroke="#444" stroke-width="0.9"/>
<line x1="434.09" y1="310.2" x2="434.09" y2="312.4" stroke="#444" stroke-width="0.9"/>
<line x1="434.09" y1="227.6" x2="434.09" y2="229.8" stroke="#444" stroke-width="0.9"/>
<line x1="441.43" y1="310.2" x2="441.43" y2="311.4" stroke="#444" stroke-width="0.9"/>
<line x1="441.43" y1="227.6" x2="441.43" y2="228.8" stroke="#444" stroke-width="0.9"/>
<line x1="448.77" y1="310.2" x2="448.77" y2="312.4" stroke="#444" stroke-width="0.9"/>
<line x1="448.77" y1="227.6" x2="448.77" y2="229.8" stroke="#444" stroke-width="0.9"/>
<line x1="456.11" y1="310.2" x2="456.11" y2="311.4" stroke="#444" stroke-width="0.9"/>
<line x1="456.11" y1="227.6" x2="456.11" y2="228.8" stroke="#444" stroke-width="0.9"/>
<line x1="463.46" y1="310.2" x2="463.46" y2="312.4" stroke="#444" stroke-width="0.9"/>
<line x1="463.46" y1="227.6" x2="463.46" y2="229.8" stroke="#444" stroke-width="0.9"/>
<line x1="470.8" y1="310.2" x2="470.8" y2="311.4" stroke="#444" stroke-width="0.9"/>
<line x1="470.8" y1="227.6" x2="470.8" y2="228.8" stroke="#444" stroke-width="0.9"/>
<line x1="478.14" y1="310.2" x2="478.14" y2="312.4" stroke="#444" stroke-width="0.9"/>
<line x1="478.14" y1="227.6" x2="478.14" y2="229.8" stroke="#444" stroke-width="0.9"/>
<line x1="485.49" y1="310.2" x2="485.49" y2="311.4" stroke="#444" stroke-width="0.9"/>
<line x1="485.49" y1="227.6" x2="485.49" y2="228.8" stroke="#444" stroke-width="0.9"/>
<line x1="492.83" y1="310.2" x2="492.83" y2="312.4" stroke="#444" stroke-width="0.9"/>
<line x1="492.83" y1="227.6" x2="492.83" y2="229.8" stroke="#444" stroke-width="0.9"/>
<line x1="500.17" y1="310.2" x2="500.17" y2="311.4" stroke="#444" stroke-width="0.9"/>
<line x1="500.17" y1="227.6" x2="500.17" y2="228.8" stroke="#444" stroke-width="0.9"/>
<line x1="507.51" y1="310.2" x2="507.51" y2="312.4" stroke="#444" stroke-width="0.9"/>
<line x1="507.51" y1="227.6" x2="507.51" y2="229.8" stroke="#444" stroke-width="0.9"/>
<line x1="514.86" y1="310.2" x2="514.86" y2="311.4" stroke="#444" stroke-width="0.9"/>
<line x1="514.86" y1="227.6" x2="514.86" y2="228.8" stroke="#444" stroke-width="0.9"/>
<line x1="522.2" y1="310.2" x2="522.2" y2="312.4" stroke="#444" stroke-width="0.9"/>
<line x1="522.2" y1="227.6" x2="522.2" y2="229.8" stroke="#444" stroke-width="0.9"/>
<line x1="417.2" y1="310.2" x2="419.4" y2="310.2" stroke="#444" stroke-width="0.9"/>
<line x1="520" y1="310.2" x2="522.2" y2="310.2" stroke="#444" stroke-width="0.9"/>
<line x1="418.2" y1="304.3" x2="419.4" y2="304.3" stroke="#444" stroke-width="0.9"/>
<line x1="521" y1="304.3" x2="522.2" y2="304.3" stroke="#444" stroke-width="0.9"/>
<line x1="417.2" y1="298.4" x2="419.4" y2="298.4" stroke="#444" stroke-width="0.9"/>
<line x1="520" y1="298.4" x2="522.2" y2="298.4" stroke="#444" stroke-width="0.9"/>
<line x1="418.2" y1="292.5" x2="419.4" y2="292.5" stroke="#444" stroke-width="0.9"/>
<line x1="521" y1="292.5" x2="522.2" y2="292.5" stroke="#444" stroke-width="0.9"/>
<line x1="417.2" y1="286.6" x2="419.4" y2="286.6" stroke="#444" stroke-width="0.9"/>
<line x1="520" y1="286.6" x2="522.2" y2="286.6" stroke="#444" stroke-width="0.9"/>
<line x1="418.2" y1="280.7" x2="419.4" y2="280.7" stroke="#444" stroke-width="0.9"/>
<line x1="521" y1="280.7" x2="522.2" y2="280.7" stroke="#444" stroke-width="0.9"/>
<line x1="417.2" y1="274.8" x2="419.4" y2="274.8" stroke="#444" stroke-width="0.9"/>
<line x1="520" y1="274.8" x2="522.2" y2="274.8" stroke="#444" stroke-width="0.9"/>
<line x1="418.2" y1="268.9" x2="419.4" y2="268.9" stroke="#444" stroke-width="0.9"/>
<line x1="521" y1="268.9" x2="522.2" y2="268.9" stroke="#444" stroke-width="0.9"/>
<line x1="417.2" y1="263" x2="419.4" y2="263" stroke="#444" stroke-width="0.9"/>
<line x1="520" y1="263" x2="522.2" y2="263" stroke="#444" stroke-width="0.9"/>
<line x1="418.2" y1="257.1" x2="419.4" y2="257.1" stroke="#444" stroke-width="0.9"/>
<line x1="521" y1="257.1" x2="522.2" y2="257.1" stroke="#444" stroke-width="0.9"/>
<line x1="417.2" y1="251.2" x2="419.4" y2="251.2" stroke="#444" stroke-width="0.9"/>
<line x1="520" y1="251.2" x2="522.2" y2="251.2" stroke="#444" stroke-width="0.9"/>
<line x1="418.2" y1="245.3" x2="419.4" y2="245.3" stroke="#444" stroke-width="0.9"/>
<line x1="521" y1="245.3" x2="522.2" y2="245.3" stroke="#444" stroke-width="0.9"/>
<line x1="417.2" y1="239.4" x2="419.4" y2="239.4" stroke="#444" stroke-width="0.9"/>
<line x1="520" y1="239.4" x2="522.2" y2="239.4" stroke="#444" stroke-width="0.9"/>
<line x1="418.2" y1="233.5" x2="419.4" y2="233.5" stroke="#444" stroke-width="0.9"/>
<line x1="521" y1="233.5" x2="522.2" y2="233.5" stroke="#444" stroke-width="0.9"/>
<line x1="417.2" y1="227.6" x2="419.4" y2="227.6" stroke="#444" stroke-width="0.9"/>
<line x1="520" y1="227.6" x2="522.2" y2="227.6" stroke="#444" stroke-width="0.9"/>
<rect x="419.4" y="227.6" width="102.8" height="82.6" fill="none" stroke="#444" stroke-width="0.9"/>
<text x="419.4" y="317.1" font-size="5.1" text-anchor="middle" font-weight="bold" fill="#000" style="stroke:#000;stroke-width:0.22px">0</text>
<text x="434.09" y="317.1" font-size="5.1" text-anchor="middle" font-weight="bold" fill="#000" style="stroke:#000;stroke-width:0.22px">1000</text>
<text x="448.77" y="317.1" font-size="5.1" text-anchor="middle" font-weight="bold" fill="#000" style="stroke:#000;stroke-width:0.22px">2000</text>
<text x="463.46" y="317.1" font-size="5.1" text-anchor="middle" font-weight="bold" fill="#000" style="stroke:#000;stroke-width:0.22px">3000</text>
<text x="478.14" y="317.1" font-size="5.1" text-anchor="middle" font-weight="bold" fill="#000" style="stroke:#000;stroke-width:0.22px">4000</text>
<text x="492.83" y="317.1" font-size="5.1" text-anchor="middle" font-weight="bold" fill="#000" style="stroke:#000;stroke-width:0.22px">5000</text>
<text x="507.51" y="317.1" font-size="5.1" text-anchor="middle" font-weight="bold" fill="#000" style="stroke:#000;stroke-width:0.22px">6000</text>
<text x="522.2" y="317.1" font-size="5.1" text-anchor="middle" font-weight="bold" fill="#000" style="stroke:#000;stroke-width:0.22px">7000</text>
<text x="416.2" y="312.04" font-size="5.1" text-anchor="end" font-weight="bold" fill="#000" style="stroke:#000;stroke-width:0.22px">0</text>
<text x="416.2" y="300.24" font-size="5.1" text-anchor="end" font-weight="bold" fill="#000" style="stroke:#000;stroke-width:0.22px">1000</text>
<text x="416.2" y="288.44" font-size="5.1" text-anchor="end" font-weight="bold" fill="#000" style="stroke:#000;stroke-width:0.22px">2000</text>
<text x="416.2" y="276.64" font-size="5.1" text-anchor="end" font-weight="bold" fill="#000" style="stroke:#000;stroke-width:0.22px">3000</text>
<text x="416.2" y="264.84" font-size="5.1" text-anchor="end" font-weight="bold" fill="#000" style="stroke:#000;stroke-width:0.22px">4000</text>
<text x="416.2" y="253.04" font-size="5.1" text-anchor="end" font-weight="bold" fill="#000" style="stroke:#000;stroke-width:0.22px">5000</text>
<text x="416.2" y="241.24" font-size="5.1" text-anchor="end" font-weight="bold" fill="#000" style="stroke:#000;stroke-width:0.22px">6000</text>
<text x="416.2" y="229.44" font-size="5.1" text-anchor="end" font-weight="bold" fill="#000" style="stroke:#000;stroke-width:0.22px">7000</text>
<text x="471.6" y="327.4" font-size="7.2" text-anchor="middle" font-weight="normal" fill="#111" >ReZ, Ohm</text>
<text class="at" x="402.6" y="271.2" font-size="7.2" text-anchor="middle" fill="#111" transform="rotate(-90 402.6 271.2)">-ImZ, Ohm</text>
<clipPath id="ci"><rect x="419.4" y="227.6" width="102.80000000000007" height="82.6"/></clipPath>
<path d="M419.6,310.2C419.9,309.87 420.16,309.45 420.5,309.2C420.83,308.96 421.2,308.8 421.6,308.7C422.03,308.59 422.54,308.55 423,308.6C423.47,308.65 423.95,308.92 424.4,309C424.81,309.08 425.21,309.19 425.6,309.1C426.02,309.01 426.46,308.76 426.8,308.4C427.22,307.96 427.52,307.22 427.8,306.5C428.14,305.65 428.36,304.51 428.6,303.6C428.82,302.79 429,302.07 429.2,301.3" fill="none" stroke="#1a1a1a" stroke-width="0.9" stroke-linejoin="round" clip-path="url(#ci)"/>
<g fill="#000" clip-path="url(#ci)"><circle cx="419.6" cy="310.2" r="0.5"/><circle cx="421.54" cy="308.72" r="0.5"/><circle cx="423.98" cy="308.88" r="0.5"/><circle cx="426.38" cy="308.76" r="0.5"/><circle cx="427.72" cy="306.7" r="0.5"/><circle cx="428.42" cy="304.3" r="0.5"/><circle cx="429.05" cy="301.88" r="0.5"/></g>
<path d="M434.4,310.2C434.8,309.47 435.16,308.7 435.6,308C436.03,307.3 436.46,306.64 437,306C437.58,305.31 438.32,304.64 439,304C439.66,303.38 440.26,302.83 441,302.2C441.89,301.45 442.99,300.56 444,299.8C444.99,299.06 445.9,298.35 447,297.7C448.21,296.98 449.65,296.3 451,295.7C452.32,295.11 453.58,294.58 455,294.1C456.56,293.57 458.33,293.1 460,292.7C461.66,292.3 463.42,291.98 465,291.7C466.4,291.45 467.66,291.23 469,291.1C470.33,290.97 471.67,290.93 473,290.9C474.33,290.87 475.67,290.85 477,290.9C478.33,290.95 479.6,291.04 481,291.2C482.58,291.39 484.34,291.7 486,292C487.67,292.3 489.33,292.67 491,293C492.67,293.33 494.33,293.67 496,294C497.67,294.33 499.33,294.7 501,295C502.66,295.3 504.33,295.6 506,295.8C507.66,296 509.43,296.14 511,296.2C512.41,296.26 513.67,296.28 515,296.2C516.34,296.12 517.67,295.9 519,295.7C520.34,295.5 521.67,295.23 523,295" fill="none" stroke="#1f6fd8" stroke-width="1.0" stroke-linejoin="round" clip-path="url(#ci)"/>
<g fill="#1050c0" clip-path="url(#ci)"><circle cx="434.4" cy="310.2" r="0.6"/><circle cx="435.6" cy="308.01" r="0.6"/><circle cx="437.07" cy="305.92" r="0.6"/><circle cx="438.92" cy="304.08" r="0.6"/><circle cx="440.9" cy="302.29" r="0.6"/><circle cx="443.01" cy="300.56" r="0.6"/><circle cx="445.24" cy="298.88" r="0.6"/><circle cx="447.63" cy="297.34" r="0.6"/><circle cx="450.24" cy="296.04" r="0.6"/><circle cx="452.98" cy="294.85" r="0.6"/><circle cx="455.84" cy="293.83" r="0.6"/><circle cx="458.84" cy="292.99" r="0.6"/><circle cx="461.94" cy="292.27" r="0.6"/><circle cx="465.14" cy="291.68" r="0.6"/><circle cx="468.42" cy="291.16" r="0.6"/><circle cx="471.81" cy="290.93" r="0.6"/><circle cx="475.28" cy="290.87" r="0.6"/><circle cx="478.78" cy="290.99" r="0.6"/><circle cx="482.26" cy="291.37" r="0.6"/><circle cx="485.71" cy="291.95" r="0.6"/><circle cx="489.15" cy="292.62" r="0.6"/><circle cx="492.58" cy="293.32" r="0.6"/><circle cx="496.01" cy="294" r="0.6"/><circle cx="499.44" cy="294.7" r="0.6"/><circle cx="502.88" cy="295.33" r="0.6"/><circle cx="506.34" cy="295.84" r="0.6"/><circle cx="509.83" cy="296.14" r="0.6"/><circle cx="513.33" cy="296.25" r="0.6"/><circle cx="516.82" cy="296.02" r="0.6"/><circle cx="520.28" cy="295.49" r="0.6"/></g>
<line x1="520.2" y1="304.5" x2="522.2" y2="304.5" stroke="#e8262b" stroke-width="1.2"/>
<rect x="420.9" y="229.6" width="46.400000000000034" height="37.400000000000006" fill="#fff" stroke="#b0b0b0" stroke-width="0.7"/>
<text x="421.9" y="237" font-size="7.0" fill="#111">1M NaPF<tspan font-size="4.5" dy="2">6</tspan><tspan dy="-2"> in</tspan></text>
<line x1="421.6" y1="245.3" x2="437.2" y2="245.3" stroke="#333" stroke-width="0.9"/>
<circle cx="429.4" cy="245.3" r="0.6" fill="#000"/>
<text x="438.6" y="247.93" font-size="7.3" text-anchor="start" font-weight="normal" fill="#111" >EC:DEC</text>
<line x1="421.6" y1="254" x2="437.2" y2="254" stroke="#f08080" stroke-width="0.9"/>
<circle cx="429.4" cy="254" r="0.6" fill="#e33"/>
<text x="438.6" y="256.63" font-size="7.3" text-anchor="start" font-weight="normal" fill="#111" >EC:DME</text>
<line x1="421.6" y1="262.5" x2="437.2" y2="262.5" stroke="#2f77d8" stroke-width="0.9"/>
<circle cx="429.4" cy="262.5" r="0.6" fill="#1050c0"/>
<text x="438.6" y="265.13" font-size="7.3" text-anchor="start" font-weight="normal" fill="#111" >EC:DMC</text>
<text x="438.4" y="276.3" font-size="7.2" fill="#111">-40<tspan font-size="4.5" dy="-3.3">o</tspan><tspan dy="3.3">C</tspan></text>
<text x="178.7" y="427.3" font-size="13.0" text-anchor="start" font-weight="bold" fill="#111" >(e)</text>
<line x1="195.9" y1="452.9" x2="203.4" y2="452.9" stroke="#8c8c8c" stroke-width="1.1"/>
<rect x="203.4" y="445.6" width="29.3" height="14.9" fill="none" stroke="#8c8c8c" stroke-width="1.1"/>
<line x1="232.7" y1="453.1" x2="241.6" y2="453.1" stroke="#8c8c8c" stroke-width="1.1"/>
<line x1="241.6" y1="426.7" x2="241.6" y2="480.2" stroke="#8c8c8c" stroke-width="1.1"/>
<line x1="241.1" y1="427.2" x2="293.8" y2="427.2" stroke="#8c8c8c" stroke-width="1.1"/>
<line x1="299.8" y1="427.2" x2="339.1" y2="427.2" stroke="#8c8c8c" stroke-width="1.1"/>
<path d="M287.6,420.3 L293.8,427.2 L287.6,434.2 M293.4,420.3 L299.8,427.2 L293.4,434.2" fill="none" stroke="#8c8c8c" stroke-width="1.1"/>
<line x1="338.6" y1="426.7" x2="338.6" y2="480" stroke="#8c8c8c" stroke-width="1.1"/>
<line x1="338.6" y1="453" x2="359.6" y2="453" stroke="#8c8c8c" stroke-width="1.1"/>
<line x1="241.1" y1="479.5" x2="253.2" y2="479.5" stroke="#8c8c8c" stroke-width="1.1"/>
<rect x="253.2" y="471.6" width="29.1" height="14.7" fill="none" stroke="#8c8c8c" stroke-width="1.1"/>
<line x1="282.3" y1="479.5" x2="310.8" y2="479.5" stroke="#8c8c8c" stroke-width="1.1"/>
<line x1="325.8" y1="479.5" x2="339.1" y2="479.5" stroke="#8c8c8c" stroke-width="1.1"/>
<text transform="translate(280 417.9) scale(0.8 1)" x="0" y="0" font-size="13.8" text-anchor="start" fill="#111" style="stroke:#111;stroke-width:0.3px">CPE</text>
<text transform="translate(211.4 458.8) scale(0.78 1)" x="0" y="0" font-size="16.2" text-anchor="start" fill="#111" style="stroke:#111;stroke-width:0.3px">R</text>
<text transform="translate(220.4 460) scale(0.75 1)" x="0" y="0" font-size="11.0" text-anchor="start" fill="#111" style="stroke:#111;stroke-width:0.3px">s</text>
<text transform="translate(260.2 484.9) scale(0.74 1)" x="0" y="0" font-size="16.2" text-anchor="start" fill="#111" style="stroke:#111;stroke-width:0.3px">R</text>
<text transform="translate(268 486.1) scale(1.06 1)" x="0" y="0" font-size="10.8" text-anchor="start" fill="#111" style="stroke:#111;stroke-width:0.3px">ct</text>
<text transform="translate(310.9 485.6) scale(1.0 1)" x="0" y="0" font-size="17.6" text-anchor="start" fill="#111" style="stroke:#111;stroke-width:0.3px">M</text>
</svg>
</body></html>
